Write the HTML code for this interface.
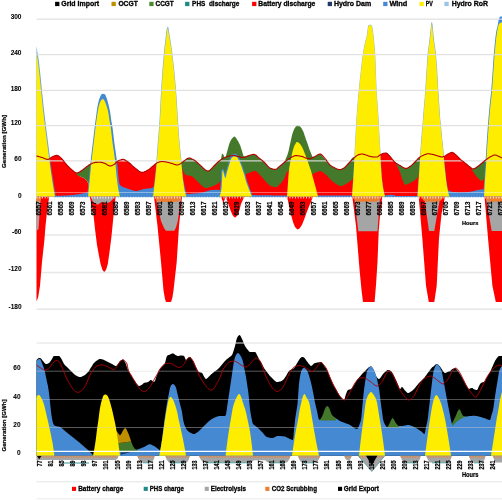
<!DOCTYPE html>
<html lang="en">
<head>
<meta charset="utf-8">
<title>Generation chart</title>
<style>
html,body{margin:0;padding:0;background:#ffffff;}
body{width:502px;height:501px;overflow:hidden;font-family:"Liberation Sans",sans-serif;}
svg{display:block;filter:blur(0.45px);}
</style>
</head>
<body>
<svg width="502" height="501" viewBox="0 0 502 501">
<rect x="0" y="0" width="502" height="501" fill="#ffffff"/>
<line x1="36.5" y1="235.0" x2="502.0" y2="235.0" stroke="#e7e7e7" stroke-width="1.5" />
<line x1="36.5" y1="272.5" x2="502.0" y2="272.5" stroke="#e7e7e7" stroke-width="1.5" />
<line x1="36.5" y1="309.2" x2="502.0" y2="309.2" stroke="#e7e7e7" stroke-width="1.5" />
<polygon points="180.0,196.6 180.0,164.0 180.5,163.6 181.0,163.2 181.5,162.8 182.0,162.4 182.5,162.1 183.0,161.7 183.5,161.3 184.0,161.0 184.5,160.6 185.0,160.3 185.5,159.9 186.0,159.5 186.5,159.1 187.0,158.7 187.5,158.4 188.0,158.2 188.5,158.1 189.0,158.0 189.5,158.0 190.0,158.1 190.5,158.3 191.0,158.4 191.5,158.7 192.0,158.9 192.5,159.2 193.0,159.4 193.5,159.7 194.0,160.0 194.5,160.3 195.0,160.6 195.5,161.0 196.0,161.4 196.5,161.9 197.0,162.3 197.5,162.8 198.0,163.2 198.5,163.7 199.0,164.2 199.5,164.6 200.0,165.0 200.5,165.4 201.0,165.9 201.5,166.3 202.0,166.8 202.5,167.3 203.0,167.8 203.5,168.3 204.0,168.8 204.5,169.2 205.0,169.7 205.5,170.0 206.0,170.4 206.5,170.6 207.0,170.8 207.5,171.0 208.0,171.0 208.5,170.9 209.0,170.8 209.5,170.5 210.0,170.1 210.5,169.7 211.0,169.2 211.5,168.7 212.0,168.1 212.5,167.6 213.0,167.0 213.5,166.5 214.0,166.0 214.5,165.5 215.0,165.0 215.5,164.5 216.0,164.0 216.5,163.5 217.0,163.0 217.5,162.5 218.0,162.0 218.5,161.6 219.0,161.3 219.5,161.0 220.0,160.7 220.5,160.2 221.0,159.5 221.5,156.3 222.0,153.5 222.5,153.7 223.0,154.3 223.5,155.0 224.0,156.1 224.5,157.4 225.0,158.0 225.5,157.4 226.0,155.8 226.5,153.8 227.0,152.0 227.5,150.3 228.0,148.5 228.5,146.6 229.0,144.8 229.5,143.3 230.0,142.0 230.5,141.0 231.0,140.1 231.5,139.3 232.0,138.6 232.5,138.0 233.0,137.5 233.5,137.0 234.0,136.7 234.5,136.6 235.0,136.8 235.5,137.3 236.0,138.0 236.5,138.8 237.0,139.5 237.5,140.2 238.0,141.0 238.5,141.9 239.0,142.9 239.5,143.9 240.0,145.0 240.5,146.3 241.0,147.9 241.5,149.5 242.0,151.0 242.5,152.7 243.0,154.5 243.5,155.9 244.0,156.5 244.5,156.5 245.0,156.4 245.5,156.3 246.0,156.2 246.5,156.1 247.0,156.0 247.5,155.9 248.0,155.7 248.5,155.6 249.0,155.5 249.5,155.4 250.0,155.3 250.5,155.1 251.0,155.0 251.5,154.8 252.0,154.7 252.5,154.6 253.0,154.5 253.5,154.4 254.0,154.4 254.5,154.5 255.0,154.7 255.5,154.9 256.0,155.3 256.5,155.7 257.0,156.2 257.5,156.7 258.0,157.1 258.5,157.6 259.0,158.0 259.5,158.4 260.0,158.8 260.5,159.1 261.0,159.5 261.5,159.9 262.0,160.3 262.5,160.7 263.0,161.1 263.5,161.6 264.0,162.0 264.5,162.5 265.0,163.0 265.5,163.6 266.0,164.2 266.5,164.7 267.0,165.3 267.5,165.9 268.0,166.5 268.5,166.9 269.0,167.4 269.5,167.7 270.0,168.0 270.5,168.2 271.0,168.4 271.5,168.6 272.0,168.8 272.5,169.0 273.0,169.1 273.5,169.2 274.0,169.3 274.5,169.4 275.0,169.4 275.5,169.3 276.0,169.2 276.5,168.9 277.0,168.6 277.5,168.2 278.0,167.8 278.5,167.3 279.0,166.9 279.5,166.4 280.0,166.0 280.5,165.6 281.0,165.2 281.5,164.7 282.0,164.3 282.5,163.8 283.0,163.3 283.5,162.7 284.0,162.0 284.5,161.3 285.0,160.4 285.5,159.4 286.0,158.3 286.5,157.1 287.0,155.9 287.5,154.5 288.0,153.0 288.5,151.2 289.0,149.0 289.5,146.6 290.0,144.2 290.5,142.0 291.0,139.8 291.5,137.6 292.0,135.5 292.5,133.6 293.0,132.0 293.5,130.7 294.0,129.6 294.5,128.6 295.0,127.7 295.5,127.0 296.0,126.3 296.5,125.7 297.0,125.2 297.5,125.0 298.0,125.1 298.5,125.3 299.0,125.6 299.5,126.1 300.0,126.5 300.5,127.0 301.0,127.6 301.5,128.3 302.0,129.2 302.5,130.0 303.0,131.0 303.5,132.1 304.0,133.5 304.5,135.0 305.0,136.5 305.5,138.0 306.0,139.4 306.5,140.8 307.0,142.2 307.5,143.6 308.0,145.0 308.5,146.4 309.0,147.9 309.5,149.4 310.0,150.7 310.5,152.0 311.0,153.3 311.5,154.6 312.0,155.8 312.5,156.7 313.0,157.0 313.5,157.0 314.0,156.8 314.5,156.6 315.0,156.4 315.5,156.2 316.0,156.0 316.5,155.8 317.0,155.5 317.5,155.1 318.0,154.8 318.5,154.5 319.0,154.2 319.5,154.1 320.0,154.0 320.5,154.1 321.0,154.5 321.5,155.1 322.0,155.8 322.5,156.4 323.0,157.0 323.5,157.5 324.0,158.1 324.5,158.7 325.0,159.3 325.5,160.0 326.0,160.6 326.5,161.2 327.0,161.9 327.5,162.5 328.0,163.1 328.5,163.6 329.0,164.1 329.5,164.6 330.0,165.0 330.5,165.4 331.0,165.7 331.5,166.1 332.0,166.4 332.5,166.7 333.0,167.0 333.5,167.3 334.0,167.5 334.5,167.8 335.0,168.0 335.5,168.2 336.0,168.4 336.5,168.7 337.0,168.9 337.5,169.1 338.0,169.2 338.5,169.4 339.0,169.5 339.5,169.6 340.0,169.6 340.5,169.6 341.0,169.5 341.5,169.3 342.0,169.1 342.5,168.8 343.0,168.6 343.5,168.3 344.0,168.0 344.5,167.7 345.0,167.3 345.5,166.8 346.0,166.3 346.5,165.7 347.0,165.2 347.5,164.6 348.0,164.0 348.5,163.4 349.0,162.7 349.5,161.9 350.0,161.1 350.5,160.3 351.0,159.6 351.5,158.9 352.0,158.3 352.5,157.8 353.0,157.5 353.5,157.3 354.0,157.1 354.5,157.0 354.5,196.6" fill="#44792c" />
<polygon points="47.0,196.6 47.0,159.4 48.0,159.4 48.5,159.3 49.0,159.1 49.5,158.8 50.0,158.4 50.5,158.0 51.0,157.6 51.5,157.3 52.0,157.0 52.5,156.8 53.0,156.6 53.5,156.3 54.0,156.1 54.5,155.9 55.0,155.8 55.5,155.6 56.0,155.5 56.5,155.4 57.0,155.4 57.5,155.5 58.0,155.6 58.5,155.9 59.0,156.3 59.5,156.7 60.0,157.1 60.5,157.6 61.0,158.0 61.5,158.5 62.0,159.0 62.5,159.6 63.0,160.2 63.5,160.8 64.0,161.5 64.5,162.2 65.0,162.8 65.5,163.4 66.0,164.0 66.5,164.5 67.0,165.1 67.5,165.6 68.0,166.2 68.5,166.7 69.0,167.2 69.5,167.7 70.0,168.1 70.5,168.6 71.0,169.0 71.5,169.4 72.0,169.9 72.5,170.3 73.0,170.8 73.5,171.2 74.0,171.6 74.5,172.0 75.0,172.3 75.5,172.6 76.0,172.8 76.5,173.0 77.0,173.0 80.0,176.5 84.0,178.0 87.0,181.0 88.5,184.0 89.5,190.0 91.0,196.6 91.0,196.6" fill="#ff0000" />
<polygon points="76.0,173.6 77.0,173.0 77.5,172.9 78.0,172.8 78.5,172.6 79.0,172.3 79.5,172.0 80.0,171.7 80.5,171.3 81.0,171.0 81.5,170.7 82.0,170.3 82.5,170.0 83.0,169.6 83.5,169.2 84.0,168.8 84.5,168.4 85.0,168.0 85.5,167.6 86.0,167.2 86.5,166.8 87.0,166.4 87.5,166.1 88.0,165.7 88.5,165.3 89.0,165.0 89.5,164.7 90.0,164.4 90.5,164.1 91.0,163.9 91.5,163.7 91.0,168.0 90.0,180.0 88.8,184.0 87.0,181.0 84.0,178.0 80.0,176.5 77.0,175.0" fill="#44792c" />
<polygon points="113.0,196.6 113.0,165.0 114.0,164.5 114.5,164.2 115.0,163.7 115.5,163.3 116.0,162.7 116.5,162.2 117.0,161.7 117.5,161.3 118.0,161.0 118.5,160.8 119.0,160.5 119.5,160.3 120.0,160.1 120.5,159.9 121.0,159.7 121.5,159.6 122.0,159.5 122.5,159.4 123.0,159.4 123.5,159.4 124.0,159.6 124.5,159.8 125.0,160.0 125.5,160.3 126.0,160.6 126.5,161.0 127.0,161.3 127.5,161.7 128.0,162.0 128.5,162.3 129.0,162.7 129.5,163.1 130.0,163.5 130.5,164.0 131.0,164.5 131.5,164.9 132.0,165.4 132.5,165.9 133.0,166.3 133.5,166.8 134.0,167.2 134.5,167.6 135.0,168.0 135.5,168.4 136.0,168.8 136.5,169.2 137.0,169.6 137.5,170.0 138.0,170.4 138.5,170.8 139.0,171.2 139.5,171.5 140.0,171.8 140.5,172.1 141.0,172.2 141.5,172.4 142.0,172.4 142.5,172.4 143.0,172.3 143.5,172.2 144.0,172.0 144.5,171.8 145.0,171.6 145.5,171.4 146.0,171.1 146.5,170.8 147.0,170.6 147.5,170.3 148.0,170.0 148.5,169.7 149.0,169.4 149.5,169.0 150.0,168.6 150.5,168.1 151.0,167.7 151.5,167.3 152.0,166.8 152.5,166.4 153.0,166.0 153.5,165.6 154.0,165.2 154.5,164.8 155.0,164.3 155.5,163.9 156.0,163.5 156.5,163.2 157.0,162.9 157.5,162.6 158.0,162.4 159.0,162.0 159.0,196.6" fill="#ff0000" />
<polygon points="180.0,196.6 180.0,164.0 180.5,165.0 181.0,165.9 181.5,167.0 182.0,168.0 182.5,169.1 183.0,170.4 183.5,171.5 184.0,172.5 184.5,173.3 185.0,174.1 185.5,174.7 186.0,175.0 186.5,175.2 187.0,175.3 187.5,175.4 188.0,175.5 188.5,175.5 189.0,175.6 189.5,175.7 190.0,175.8 190.5,175.9 191.0,176.0 191.5,176.2 192.0,176.5 192.5,176.8 193.0,177.2 193.5,177.6 194.0,178.1 194.5,178.6 195.0,179.1 195.5,179.5 196.0,180.0 196.5,180.5 197.0,181.0 197.5,181.5 198.0,182.0 198.5,182.6 199.0,183.1 199.5,183.6 200.0,184.0 200.5,184.4 201.0,184.9 201.5,185.3 202.0,185.8 202.5,186.2 203.0,186.6 203.5,187.0 204.0,187.3 204.5,187.6 205.0,187.8 205.5,188.0 206.0,188.0 206.5,188.0 207.0,187.9 207.5,187.9 208.0,187.8 208.5,187.6 209.0,187.5 209.5,187.3 210.0,187.1 210.5,187.0 211.0,186.8 211.5,186.6 212.0,186.4 212.5,186.2 213.0,186.0 213.5,185.8 214.0,185.6 214.5,185.4 215.0,185.2 215.5,185.0 216.0,184.7 216.5,184.4 217.0,184.1 217.5,183.8 218.0,183.5 218.5,183.2 219.0,182.8 219.5,182.3 220.0,181.7 220.5,181.0 221.0,179.5 221.5,177.2 222.0,175.0 222.5,173.2 223.0,171.6 223.5,170.0 223.5,196.6" fill="#ff0000" />
<polygon points="243.0,196.6 243.0,180.0 243.5,178.4 244.0,177.0 244.5,175.8 245.0,175.0 245.5,174.6 246.0,174.2 246.5,173.9 247.0,173.6 247.5,173.4 248.0,173.2 248.5,173.0 249.0,172.9 249.5,172.7 250.0,172.5 250.5,172.3 251.0,172.1 251.5,171.9 252.0,171.7 252.5,171.5 253.0,171.3 253.5,171.2 254.0,171.1 254.5,171.0 255.0,171.0 255.5,171.1 256.0,171.3 256.5,171.6 257.0,172.0 257.5,172.4 258.0,172.9 258.5,173.4 259.0,174.0 259.5,174.5 260.0,175.0 260.5,175.5 261.0,176.0 261.5,176.6 262.0,177.2 262.5,177.7 263.0,178.3 263.5,178.9 264.0,179.5 264.5,180.1 265.0,180.7 265.5,181.3 266.0,181.9 266.5,182.5 267.0,183.1 267.5,183.6 268.0,184.0 268.5,184.4 269.0,184.8 269.5,185.2 270.0,185.5 270.5,185.9 271.0,186.1 271.5,186.4 272.0,186.5 272.5,186.6 273.0,186.7 273.5,186.8 274.0,186.9 274.5,186.9 275.0,187.0 275.5,187.0 276.0,187.0 276.5,186.9 277.0,186.7 277.5,186.4 278.0,186.0 278.5,185.5 279.0,185.0 279.5,184.5 280.0,184.0 280.5,183.5 281.0,183.0 281.5,182.4 282.0,181.9 282.5,181.2 283.0,180.5 283.5,179.8 284.0,179.0 284.5,178.0 285.0,176.8 285.5,175.4 286.0,174.1 286.5,172.9 287.0,172.0 287.5,171.4 288.0,170.9 288.5,170.5 289.0,170.0 289.5,169.5 290.0,169.0 290.0,196.6" fill="#ff0000" />
<polygon points="311.0,196.6 311.0,178.0 311.5,176.8 312.0,175.6 312.5,174.6 313.0,174.0 313.5,173.6 314.0,173.3 314.5,173.0 315.0,172.8 315.5,172.6 316.0,172.4 316.5,172.2 317.0,172.0 317.5,171.8 318.0,171.6 318.5,171.4 319.0,171.2 319.5,171.0 320.0,171.0 320.5,171.1 321.0,171.2 321.5,171.4 322.0,171.7 322.5,172.0 323.0,172.4 323.5,172.8 324.0,173.2 324.5,173.6 325.0,174.0 325.5,174.4 326.0,174.8 326.5,175.3 327.0,175.8 327.5,176.3 328.0,176.9 328.5,177.4 329.0,178.0 329.5,178.5 330.0,179.1 330.5,179.6 331.0,180.1 331.5,180.6 332.0,181.0 332.5,181.4 333.0,181.8 333.5,182.2 334.0,182.6 334.5,183.0 335.0,183.3 335.5,183.6 336.0,184.0 336.5,184.2 337.0,184.5 337.5,184.7 338.0,185.0 338.5,185.3 339.0,185.5 339.5,185.7 340.0,185.9 340.5,186.0 341.0,186.0 341.5,186.0 342.0,185.9 342.5,185.7 343.0,185.5 343.5,185.2 344.0,185.0 344.5,184.7 345.0,184.5 345.5,184.3 346.0,184.0 346.5,183.7 347.0,183.4 347.5,183.1 348.0,182.7 348.5,182.4 349.0,182.0 349.5,181.6 350.0,181.3 350.5,180.9 351.0,180.5 351.5,180.0 352.0,179.4 352.5,178.8 353.0,178.0 353.5,176.7 354.0,174.8 354.5,172.5 355.0,170.0 355.0,196.6" fill="#ff0000" />
<polygon points="378.0,196.6 378.0,157.0 379.0,155.8 379.5,155.3 380.0,155.0 380.5,154.7 381.0,154.4 381.5,154.1 382.0,153.9 382.5,153.7 383.0,153.5 383.5,153.4 384.0,153.3 384.5,153.2 385.0,153.1 385.5,153.0 386.0,153.0 386.5,153.1 387.0,153.4 387.5,153.8 388.0,154.3 388.5,154.8 389.0,155.4 389.5,156.0 390.0,156.5 390.5,157.0 391.0,157.6 391.5,158.3 392.0,158.9 392.5,159.6 393.0,160.2 393.5,160.8 394.0,161.4 394.5,162.0 395.0,162.4 395.5,162.8 396.0,163.2 396.5,163.5 397.0,163.8 397.5,164.1 398.0,164.4 398.5,164.7 399.0,165.0 399.5,165.2 400.0,165.5 400.5,165.8 401.0,166.1 401.5,166.4 402.0,166.7 402.5,167.1 403.0,167.4 403.5,167.6 404.0,167.9 404.5,168.1 405.0,168.3 405.5,168.4 406.0,168.4 406.5,168.4 407.0,168.2 407.5,168.0 408.0,167.8 408.5,167.5 409.0,167.1 409.5,166.8 410.0,166.5 410.5,166.2 411.0,165.8 411.5,165.4 412.0,164.9 412.5,164.4 413.0,164.0 413.5,163.5 414.0,163.0 414.5,162.5 415.0,162.0 415.5,161.5 416.0,160.9 416.5,160.3 417.0,159.8 417.5,159.2 418.0,158.7 418.5,158.2 419.0,157.8 419.5,157.4 420.0,157.0 420.5,156.7 421.0,156.4 422.0,157.0 422.0,196.6" fill="#ff0000" />
<polygon points="395.0,162.4 395.5,162.8 396.0,163.2 396.5,163.5 397.0,163.8 397.5,164.1 398.0,164.4 398.5,164.7 399.0,165.0 399.5,165.2 400.0,165.5 400.5,165.8 401.0,166.1 401.5,166.4 402.0,166.7 402.5,167.1 403.0,167.4 403.5,167.6 404.0,167.9 404.5,168.1 405.0,168.3 405.5,168.4 406.0,168.4 406.5,168.4 407.0,168.2 407.5,168.0 408.0,167.8 408.5,167.5 409.0,167.1 409.5,166.8 410.0,166.5 410.5,166.2 411.0,165.8 411.5,165.4 412.0,164.9 412.5,164.4 413.0,164.0 413.5,163.5 414.0,163.0 414.5,162.5 415.0,162.0 415.5,161.5 416.0,160.9 416.5,160.3 417.0,159.8 417.5,159.2 418.0,158.7 418.5,158.2 419.0,157.8 419.5,157.4 420.0,157.0 420.5,156.7 420.5,160.0 419.5,170.0 418.0,177.0 415.0,180.0 412.0,182.0 408.0,184.0 405.0,185.0 403.5,182.5 402.0,178.5 400.0,172.0 397.0,166.0" fill="#44792c" />
<polygon points="441.0,196.6 441.0,157.0 442.0,157.0 442.5,156.9 443.0,156.8 443.5,156.6 444.0,156.4 444.5,156.2 445.0,155.9 445.5,155.6 446.0,155.2 446.5,154.9 447.0,154.6 447.5,154.3 448.0,154.0 448.5,153.7 449.0,153.5 449.5,153.2 450.0,153.0 450.5,152.7 451.0,152.6 451.5,152.4 452.0,152.4 452.5,152.5 453.0,152.7 453.5,152.9 454.0,153.3 454.5,153.7 455.0,154.2 455.5,154.6 456.0,155.0 456.5,155.4 457.0,155.9 457.5,156.4 458.0,156.9 458.5,157.5 459.0,158.0 459.5,158.5 460.0,159.0 460.5,159.4 461.0,159.9 461.5,160.3 462.0,160.7 462.5,161.1 463.0,161.4 463.5,161.8 464.0,162.2 464.5,162.6 465.0,163.0 465.5,163.4 466.0,163.8 466.5,164.2 467.0,164.6 467.5,165.0 468.0,165.5 468.5,165.9 469.0,166.3 469.5,166.6 470.0,167.0 470.5,167.4 471.0,167.8 471.5,168.3 472.0,168.6 472.5,168.9 473.0,169.0 473.5,168.9 474.0,168.8 474.5,168.6 475.0,168.3 475.5,168.0 476.0,167.7 476.5,167.3 477.0,167.0 477.5,166.7 478.0,166.3 478.5,165.9 479.0,165.5 479.5,165.1 480.0,164.7 480.5,164.3 481.0,163.8 481.5,163.4 482.0,163.0 482.5,162.6 483.0,162.2 483.5,161.8 484.0,161.4 484.5,160.9 485.0,160.5 485.5,160.1 486.0,159.7 486.5,159.4 487.0,159.0 487.5,158.7 488.0,158.3 489.0,158.0 489.0,196.6" fill="#ff0000" />
<polygon points="470.0,167.0 470.5,167.4 471.0,167.8 471.5,168.3 472.0,168.6 472.5,168.9 473.0,169.0 473.5,168.9 474.0,168.8 474.5,168.6 475.0,168.3 475.5,168.0 476.0,167.7 476.5,167.3 477.0,167.0 477.5,166.7 478.0,166.3 478.5,165.9 479.0,165.5 479.5,165.1 480.0,164.7 480.5,164.3 481.0,163.8 481.5,163.4 482.0,163.0 482.5,162.6 483.0,162.2 483.5,161.8 484.0,161.4 484.5,160.9 485.0,160.5 485.5,160.1 486.0,159.7 486.5,159.4 487.0,159.0 487.5,158.7 487.0,162.0 486.0,168.0 485.0,175.0 484.0,179.5 481.0,181.0 478.5,178.5 476.0,176.0 473.0,171.5" fill="#44792c" />
<polygon points="53.0,197.2 53.0,195.8 53.5,195.8 54.0,195.8 54.5,195.8 55.0,195.8 55.5,195.8 56.0,195.8 56.5,195.8 57.0,195.8 57.5,195.8 58.0,195.8 58.5,195.8 59.0,195.8 59.5,195.8 60.0,195.7 60.5,195.7 61.0,195.7 61.5,195.7 62.0,195.7 62.5,195.7 63.0,195.6 63.5,195.6 64.0,195.6 64.5,195.6 65.0,195.5 65.5,195.5 66.0,195.5 66.5,195.5 67.0,195.4 67.5,195.4 68.0,195.4 68.5,195.3 69.0,195.3 69.5,195.3 70.0,195.2 70.5,195.2 71.0,195.1 71.5,195.1 72.0,195.0 72.5,195.0 73.0,194.9 73.5,194.9 74.0,194.8 74.5,194.7 75.0,194.7 75.5,194.6 76.0,194.6 76.5,194.5 77.0,194.4 77.5,194.4 78.0,194.3 78.5,194.2 79.0,194.2 79.5,194.1 80.0,194.0 80.5,193.9 81.0,193.8 81.5,193.7 82.0,193.6 82.5,193.5 83.0,193.4 83.5,193.3 84.0,193.2 84.5,193.1 85.0,193.0 85.5,192.9 86.0,192.8 86.5,192.7 87.0,192.6 87.5,192.5 88.0,192.4 88.5,192.3 89.0,192.2 89.5,192.1 90.0,192.0 90.0,197.2" fill="#4589d3" />
<polygon points="114.0,197.2 114.0,160.0 114.5,160.8 115.0,162.2 115.5,164.0 116.0,166.0 116.5,169.0 117.0,173.1 117.5,177.2 118.0,180.0 118.5,181.7 119.0,183.1 119.5,184.3 120.0,185.0 120.5,185.5 121.0,185.9 121.5,186.2 122.0,186.5 122.5,186.8 123.0,187.0 123.5,187.2 124.0,187.4 124.5,187.5 125.0,187.7 125.5,187.8 126.0,188.0 126.5,188.2 127.0,188.4 127.5,188.6 128.0,188.7 128.5,188.9 129.0,189.1 129.5,189.3 130.0,189.5 130.5,189.6 131.0,189.8 131.5,190.0 132.0,190.1 132.5,190.3 133.0,190.4 133.5,190.6 134.0,190.7 134.5,190.8 135.0,190.9 135.5,191.0 136.0,191.0 136.5,191.0 137.0,190.9 137.5,190.8 138.0,190.7 138.5,190.6 139.0,190.5 139.5,190.3 140.0,190.2 140.5,190.1 141.0,189.9 141.5,189.7 142.0,189.6 142.5,189.4 143.0,189.2 143.5,189.1 144.0,189.0 144.5,188.9 145.0,188.8 145.5,188.8 146.0,188.7 146.5,188.7 147.0,188.6 147.5,188.6 148.0,188.5 148.5,188.4 149.0,188.4 149.5,188.4 150.0,188.3 150.5,188.3 151.0,188.2 151.5,188.1 152.0,188.0 152.5,187.7 153.0,187.3 153.5,186.7 154.0,186.0 154.5,185.3 155.0,184.3 155.5,183.0 156.0,180.2 156.5,176.1 157.0,172.0 157.5,168.5 158.0,165.0 158.0,197.2" fill="#4589d3" />
<polygon points="183.0,197.2 183.0,180.0 183.5,182.0 184.0,184.0 184.5,186.0 185.0,188.0 185.5,190.2 186.0,192.0 186.5,193.3 187.0,194.0 187.5,194.0 188.0,194.0 188.5,194.0 189.0,193.9 189.5,193.9 190.0,193.9 190.5,193.8 191.0,193.8 191.5,193.7 192.0,193.7 192.5,193.6 193.0,193.6 193.5,193.6 194.0,193.5 194.5,193.5 195.0,193.5 195.5,193.4 196.0,193.4 196.5,193.3 197.0,193.3 197.5,193.3 198.0,193.2 198.5,193.2 199.0,193.1 199.5,193.1 200.0,193.0 200.5,192.9 201.0,192.8 201.5,192.7 202.0,192.6 202.5,192.5 203.0,192.3 203.5,192.2 204.0,192.1 204.5,191.9 205.0,191.8 205.5,191.6 206.0,191.5 206.5,191.4 207.0,191.2 207.5,191.1 208.0,190.9 208.5,190.8 209.0,190.6 209.5,190.5 210.0,190.3 210.5,190.2 211.0,190.1 211.5,190.1 212.0,190.0 212.5,190.0 213.0,189.9 213.5,189.9 214.0,189.9 214.5,189.8 215.0,189.8 215.5,189.8 216.0,189.8 216.5,189.8 217.0,189.8 217.5,189.8 218.0,189.8 218.5,189.9 219.0,189.9 219.5,190.0 220.0,190.0 220.5,190.2 221.0,190.7 221.5,191.3 222.0,192.0 222.0,197.2" fill="#4589d3" />
<polygon points="249.0,197.2 249.0,192.0 249.5,193.0 250.0,193.9 250.5,194.7 251.0,195.0 251.5,195.0 252.0,195.0 252.5,195.1 253.0,195.1 253.5,195.1 254.0,195.1 254.5,195.1 255.0,195.1 255.5,195.1 256.0,195.2 256.5,195.2 257.0,195.2 257.5,195.2 258.0,195.2 258.5,195.2 259.0,195.2 259.5,195.2 260.0,195.2 260.5,195.2 261.0,195.2 261.5,195.2 262.0,195.2 262.5,195.2 263.0,195.2 263.5,195.3 264.0,195.3 264.5,195.3 265.0,195.3 265.5,195.3 266.0,195.3 266.5,195.3 267.0,195.3 267.5,195.3 268.0,195.3 268.5,195.3 269.0,195.3 269.5,195.3 270.0,195.3 270.5,195.3 271.0,195.3 271.5,195.4 272.0,195.4 272.5,195.4 273.0,195.4 273.5,195.4 274.0,195.4 274.5,195.4 275.0,195.4 275.5,195.4 276.0,195.4 276.5,195.4 277.0,195.4 277.5,195.4 278.0,195.5 278.5,195.5 279.0,195.5 279.5,195.5 280.0,195.5 280.5,195.5 281.0,195.5 281.5,195.5 282.0,195.5 282.5,195.6 283.0,195.6 283.5,195.6 284.0,195.6 284.5,195.6 285.0,195.6 285.5,195.6 286.0,195.6 286.5,195.6 287.0,195.6 287.5,195.6 288.0,195.6 288.0,197.2" fill="#4589d3" />
<polygon points="316.0,197.2 316.0,193.0 316.5,193.8 317.0,194.5 317.5,195.1 318.0,195.4 318.5,195.4 319.0,195.4 319.5,195.5 320.0,195.5 320.5,195.5 321.0,195.5 321.5,195.5 322.0,195.5 322.5,195.5 323.0,195.5 323.5,195.6 324.0,195.6 324.5,195.6 325.0,195.6 325.5,195.6 326.0,195.6 326.5,195.6 327.0,195.6 327.5,195.6 328.0,195.6 328.5,195.6 329.0,195.6 329.5,195.6 330.0,195.6 330.5,195.6 331.0,195.6 331.5,195.6 332.0,195.6 332.5,195.6 333.0,195.6 333.5,195.6 334.0,195.6 334.5,195.6 335.0,195.6 335.5,195.6 336.0,195.6 336.5,195.6 337.0,195.6 337.5,195.6 338.0,195.6 338.5,195.6 339.0,195.6 339.5,195.6 340.0,195.6 340.5,195.6 341.0,195.6 341.5,195.6 342.0,195.6 342.5,195.6 343.0,195.6 343.5,195.6 344.0,195.6 344.5,195.6 345.0,195.6 345.5,195.6 346.0,195.6 346.5,195.6 347.0,195.6 347.5,195.6 348.0,195.6 348.5,195.5 349.0,195.5 349.5,195.5 350.0,195.5 350.5,195.5 351.0,195.5 351.5,195.5 352.0,195.4 352.5,195.4 353.0,195.4 353.0,197.2" fill="#4589d3" />
<polygon points="383.0,197.2 383.0,192.0 383.5,193.3 384.0,194.4 384.5,195.3 385.0,195.6 385.5,195.6 386.0,195.5 386.5,195.3 387.0,195.2 387.5,195.1 388.0,195.0 388.5,195.0 389.0,194.9 389.5,194.9 390.0,194.8 390.5,194.8 391.0,194.8 391.5,194.8 392.0,194.9 392.5,195.0 393.0,195.1 393.5,195.2 394.0,195.3 394.5,195.4 395.0,195.6 395.5,195.7 396.0,195.9 396.5,196.0 397.0,196.0 397.5,196.0 398.0,196.0 398.5,196.0 399.0,196.0 399.5,196.0 400.0,196.0 400.5,196.0 401.0,196.0 401.5,196.0 402.0,196.0 402.5,196.0 403.0,196.0 403.5,196.0 404.0,196.0 404.5,196.0 405.0,196.0 405.5,196.0 406.0,196.0 406.5,196.0 407.0,196.0 407.5,196.0 408.0,196.0 408.5,196.0 409.0,196.0 409.5,196.0 410.0,196.0 410.5,196.0 411.0,196.0 411.5,196.0 412.0,196.0 412.5,196.0 413.0,196.0 413.5,196.0 414.0,196.0 414.5,196.0 415.0,196.0 415.5,196.0 416.0,196.0 416.5,196.0 417.0,196.0 417.5,196.0 418.0,196.0 418.0,197.2" fill="#4589d3" />
<polygon points="445.0,197.2 445.0,182.0 445.5,184.2 446.0,186.0 446.5,187.3 447.0,188.4 447.5,189.4 448.0,190.0 448.5,190.5 449.0,190.8 449.5,191.1 450.0,191.3 450.5,191.4 451.0,191.6 451.5,191.7 452.0,191.8 452.5,191.8 453.0,191.9 453.5,192.0 454.0,192.0 454.5,192.0 455.0,192.1 455.5,192.1 456.0,192.1 456.5,192.2 457.0,192.2 457.5,192.2 458.0,192.2 458.5,192.3 459.0,192.3 459.5,192.3 460.0,192.3 460.5,192.3 461.0,192.3 461.5,192.3 462.0,192.3 462.5,192.3 463.0,192.3 463.5,192.3 464.0,192.2 464.5,192.2 465.0,192.2 465.5,192.2 466.0,192.1 466.5,192.1 467.0,192.1 467.5,192.0 468.0,192.0 468.5,192.0 469.0,191.9 469.5,191.8 470.0,191.8 470.5,191.7 471.0,191.6 471.5,191.5 472.0,191.4 472.5,191.3 473.0,191.2 473.5,191.1 474.0,191.0 474.5,190.9 475.0,190.7 475.5,190.6 476.0,190.5 476.5,190.3 477.0,190.2 477.5,190.1 478.0,190.0 478.5,189.9 479.0,189.8 479.5,189.8 480.0,189.7 480.5,189.6 481.0,189.6 481.5,189.5 482.0,189.4 482.5,189.3 483.0,189.2 483.5,189.1 484.0,189.0 484.5,188.8 485.0,188.6 485.5,188.3 486.0,188.0 486.0,197.2" fill="#4589d3" />
<polygon points="36.5,196.6 36.5,46.0 37.3,51.8 37.7,53.8 38.1,56.2 38.5,58.8 38.9,61.6 39.3,64.8 39.7,68.4 40.1,72.2 40.5,76.1 40.9,79.9 41.3,83.9 41.7,88.1 42.1,92.2 42.5,96.2 42.9,100.0 43.3,103.7 43.7,107.3 44.1,110.8 44.5,114.2 44.9,117.6 45.3,121.0 45.7,124.3 46.1,127.7 46.5,131.0 47.0,134.3 47.4,137.5 47.8,140.7 48.2,143.8 48.6,147.0 49.0,150.0 49.4,153.1 49.8,156.1 50.2,159.1 50.6,162.1 51.0,165.0 51.4,167.9 51.8,170.7 52.2,173.4 52.6,176.0 53.0,178.6 53.4,181.2 53.8,183.7 54.2,186.1 54.6,188.5 55.0,190.9 55.4,193.2 55.8,195.4 56.0,196.6" fill="#4589d3" opacity="0.8"/>
<polygon points="36.5,196.6 36.5,53.0 36.9,55.0 37.3,57.4 37.7,60.0 38.1,62.8 38.5,66.0 38.9,69.6 39.3,73.4 39.7,77.3 40.1,81.1 40.5,85.1 40.9,89.3 41.3,93.4 41.7,97.4 42.1,101.2 42.5,104.9 42.9,108.5 43.3,112.0 43.7,115.4 44.1,118.8 44.5,122.2 44.9,125.5 45.3,128.9 45.8,132.2 46.2,135.5 46.6,138.7 47.0,141.9 47.4,145.0 47.8,148.2 48.2,151.2 48.6,154.3 49.0,157.3 49.4,160.3 49.8,163.3 50.2,166.2 50.6,169.1 51.0,171.9 51.4,174.6 51.8,177.2 52.2,179.8 52.6,182.4 53.0,184.9 53.4,187.3 53.8,189.7 54.2,192.1 54.6,194.4 55.0,196.6 55.0,196.6" fill="#ffed00" />
<polygon points="87.1,196.6 87.1,196.6 87.5,192.8 87.9,189.0 88.3,185.0 88.7,181.0 89.1,176.7 89.5,172.2 89.9,168.0 90.3,164.1 90.7,160.5 91.1,157.0 91.5,153.7 91.9,150.4 92.3,147.1 92.7,143.8 93.1,140.5 93.5,137.0 93.9,133.6 94.3,130.2 94.7,126.9 95.1,123.7 95.5,120.7 95.9,117.9 96.3,114.7 96.7,111.7 97.1,108.9 97.5,106.5 97.9,104.5 98.3,102.7 98.7,101.0 99.1,99.6 99.5,98.4 99.9,97.4 100.3,96.4 100.7,95.6 101.1,94.9 101.5,94.2 102.8,93.8 105.0,94.3 105.4,95.1 105.8,95.9 106.2,96.9 106.6,97.9 107.0,99.0 107.4,100.4 107.8,101.9 108.2,103.4 108.6,105.0 109.0,106.6 109.4,108.4 109.8,110.4 110.2,112.7 110.6,115.6 111.0,118.6 111.4,121.2 111.8,123.2 112.2,125.4 112.6,128.1 113.0,131.2 113.4,134.6 113.8,138.1 114.2,141.4 114.6,144.5 115.0,147.3 115.4,149.9 115.8,152.6 116.2,155.4 116.6,158.4 117.0,161.8 117.4,165.8 117.8,170.1 118.2,174.4 118.6,178.3 119.0,181.6 119.4,184.5 119.8,187.1 120.2,189.5 120.6,191.5 121.0,193.5 121.4,195.2 121.8,196.6 121.8,196.6" fill="#4589d3" opacity="1.0"/>
<polygon points="88.0,196.6 88.0,196.6 88.4,192.8 88.8,189.0 89.2,185.0 89.6,181.0 90.0,176.7 90.4,172.2 90.8,168.0 91.2,164.1 91.6,160.5 92.0,157.0 92.4,153.7 92.8,150.4 93.2,147.1 93.6,143.8 94.0,140.5 94.4,137.0 94.8,133.6 95.2,130.2 95.6,126.9 96.0,123.7 96.4,120.7 96.8,117.9 97.2,115.1 97.6,112.4 98.0,110.0 98.4,107.9 98.8,106.2 99.2,104.7 99.6,103.4 100.0,102.4 100.4,101.5 100.8,100.8 101.2,100.2 101.6,99.8 102.0,99.4 102.4,99.1 102.8,99.0 103.2,99.2 103.6,99.6 104.0,100.1 104.4,100.7 104.8,101.3 105.2,102.2 105.6,103.2 106.0,104.3 106.4,105.5 106.8,106.7 107.2,108.0 107.6,109.5 108.0,111.1 108.4,113.0 108.8,115.6 109.2,118.6 109.6,121.2 110.0,123.2 110.4,125.4 110.8,128.1 111.2,131.2 111.6,134.6 112.0,138.1 112.4,141.4 112.8,144.5 113.2,147.3 113.6,149.9 114.0,152.6 114.4,155.4 114.8,158.4 115.2,161.8 115.6,165.8 116.0,170.1 116.4,174.4 116.8,178.3 117.2,181.6 117.6,184.5 118.0,187.1 118.4,189.5 118.8,191.5 119.2,193.5 119.6,195.2 120.0,196.6 120.0,196.6" fill="#ffed00" />
<polygon points="152.5,196.6 152.5,196.6 152.9,193.5 153.3,190.3 153.7,186.9 154.1,183.4 154.5,179.8 154.9,176.1 155.3,172.3 155.7,168.3 156.1,164.1 156.5,159.6 156.9,154.5 157.3,149.1 157.7,143.4 158.2,138.0 158.6,132.9 159.0,127.7 159.4,122.1 159.8,115.5 160.2,107.7 160.6,99.5 161.0,92.0 161.4,85.6 161.8,79.5 162.2,73.7 162.6,68.3 163.0,63.2 163.4,58.4 163.8,53.9 164.2,49.9 164.6,46.3 165.0,42.9 165.4,39.5 165.8,36.0 166.2,32.6 166.6,29.6 167.5,26.8 168.3,27.1 168.7,29.6 169.1,32.1 169.5,34.6 169.9,37.3 170.4,40.0 170.8,42.7 171.2,45.3 171.6,48.0 172.0,50.9 172.4,54.0 172.8,57.4 173.2,60.9 173.6,64.5 174.0,68.4 174.4,72.3 174.8,76.4 175.2,80.7 175.6,85.3 176.0,90.0 176.4,95.4 176.8,101.4 177.2,107.8 177.6,114.2 178.0,120.3 178.4,126.3 178.8,132.3 179.2,137.9 179.6,142.7 180.0,146.9 180.4,150.9 180.8,154.7 181.2,158.5 181.7,162.6 182.1,166.9 182.5,171.2 182.9,175.2 183.3,178.9 183.7,182.1 184.1,185.1 184.5,187.8 184.9,189.9 185.3,191.7 185.7,193.3 186.1,194.7 186.5,195.8 186.9,196.6 186.9,196.6" fill="#4589d3" opacity="0.7"/>
<polygon points="153.0,196.6 153.0,196.6 153.4,193.5 153.8,190.3 154.2,186.9 154.6,183.4 155.0,179.8 155.4,176.1 155.8,172.3 156.2,168.3 156.6,164.1 157.0,159.6 157.4,154.5 157.8,149.1 158.2,143.4 158.7,138.0 159.1,132.9 159.5,127.7 159.9,122.1 160.3,115.5 160.7,107.7 161.1,99.5 161.5,92.0 161.9,85.7 162.3,79.7 162.7,74.1 163.1,68.7 163.5,63.7 163.9,59.0 164.3,54.7 164.7,50.8 165.1,47.3 165.5,44.0 165.9,40.7 166.3,37.3 166.7,34.0 167.1,31.1 167.5,28.4 167.9,28.6 168.3,31.0 168.7,33.4 169.1,35.8 169.5,38.4 170.0,41.0 170.4,43.5 170.8,46.0 171.2,48.7 171.6,51.5 172.0,54.5 172.4,57.7 172.8,61.1 173.2,64.6 173.6,68.4 174.0,72.3 174.4,76.4 174.8,80.7 175.2,85.3 175.6,90.0 176.0,95.4 176.4,101.4 176.8,107.8 177.2,114.2 177.6,120.3 178.0,126.3 178.4,132.3 178.8,137.9 179.2,142.7 179.6,146.9 180.0,150.9 180.4,154.7 180.8,158.5 181.3,162.6 181.7,166.9 182.1,171.2 182.5,175.2 182.9,178.9 183.3,182.1 183.7,185.1 184.1,187.8 184.5,189.9 184.9,191.7 185.3,193.3 185.7,194.7 186.1,195.8 186.5,196.6 186.5,196.6" fill="#ffed00" />
<polygon points="217.7,196.6 217.7,196.6 218.1,196.4 218.5,195.8 218.9,195.0 219.3,193.9 219.7,192.7 220.1,190.6 220.5,187.6 220.9,180.4 221.3,172.3 221.7,170.0 222.1,171.0 222.5,172.6 222.9,174.1 223.3,175.7 223.7,177.1 224.1,177.9 224.5,177.7 224.9,176.4 225.3,174.5 225.7,172.6 226.2,171.1 226.6,169.8 227.0,168.5 227.4,167.1 227.8,165.8 228.2,164.3 228.6,162.7 229.0,161.3 229.4,159.7 229.8,158.3 230.2,157.4 230.6,156.7 231.0,156.1 231.4,155.5 231.8,155.1 232.2,154.7 232.6,154.5 233.0,154.2 233.4,154.0 234.9,153.8 236.2,154.0 236.6,154.2 237.0,154.5 237.4,154.8 237.8,155.2 238.2,156.0 238.6,156.9 239.0,157.8 239.4,158.6 239.8,159.5 240.2,160.5 240.6,161.5 241.0,162.5 241.4,163.6 241.8,164.8 242.2,165.9 242.6,167.0 243.0,168.3 243.4,169.5 243.8,170.7 244.2,171.9 244.6,173.1 245.1,174.4 245.5,175.7 245.9,177.2 246.3,178.9 246.7,180.5 247.1,181.8 247.5,183.0 247.9,184.1 248.3,185.1 248.7,186.2 249.1,187.3 249.5,188.4 249.9,189.5 250.3,190.5 250.7,191.6 251.1,192.6 251.5,193.6 251.9,194.5 252.3,195.3 252.7,196.0 253.1,196.6 253.1,196.6" fill="#4589d3" opacity="1.0"/>
<polyline points="218.8,196.6 219.2,196.4 219.6,195.8 220.0,195.0 220.4,193.9 220.8,192.7 221.2,190.6 221.6,187.6 222.0,180.4 222.4,172.3 222.8,170.0 223.2,171.0 223.6,172.6 224.0,174.1 224.4,175.7 224.8,177.1 225.2,177.9 225.6,177.7 226.0,176.4 226.4,174.5 226.8,172.6 227.3,171.1 227.7,169.8 228.1,168.5 228.5,167.1 228.9,165.8 229.3,164.4 229.7,163.1 230.1,161.8 230.5,160.4 230.9,159.2 231.3,158.4 231.7,157.9 232.1,157.4 232.5,157.1 232.9,156.8 233.3,156.6 233.7,156.5 234.1,156.5 234.5,156.4 234.9,156.4 235.3,156.4 235.7,156.5 236.1,156.6 236.5,156.7 236.9,157.0 237.3,157.5 237.7,158.3 238.1,159.0 238.5,159.7 238.9,160.4 239.3,161.1 239.7,162.0 240.1,162.9 240.5,163.8 240.9,164.8 241.3,165.9 241.7,167.0 242.1,168.3 242.5,169.5 242.9,170.7 243.3,171.9 243.7,173.1 244.2,174.4 244.6,175.7 245.0,177.2 245.4,178.9 245.8,180.5 246.2,181.8 246.6,183.0 247.0,184.1 247.4,185.1 247.8,186.2 248.2,187.3 248.6,188.4 249.0,189.5 249.4,190.5 249.8,191.6 250.2,192.6 250.6,193.6 251.0,194.5 251.4,195.3 251.8,196.0 252.2,196.6" fill="none" stroke="#4589d3" stroke-width="2.0" stroke-linejoin="round" />
<polygon points="218.8,196.6 218.8,196.6 219.2,196.4 219.6,195.8 220.0,195.0 220.4,193.9 220.8,192.7 221.2,190.6 221.6,187.6 222.0,180.4 222.4,172.3 222.8,170.0 223.2,171.0 223.6,172.6 224.0,174.1 224.4,175.7 224.8,177.1 225.2,177.9 225.6,177.7 226.0,176.4 226.4,174.5 226.8,172.6 227.3,171.1 227.7,169.8 228.1,168.5 228.5,167.1 228.9,165.8 229.3,164.4 229.7,163.1 230.1,161.8 230.5,160.4 230.9,159.2 231.3,158.4 231.7,157.9 232.1,157.4 232.5,157.1 232.9,156.8 233.3,156.6 233.7,156.5 234.1,156.5 234.5,156.4 234.9,156.4 235.3,156.4 235.7,156.5 236.1,156.6 236.5,156.7 236.9,157.0 237.3,157.5 237.7,158.3 238.1,159.0 238.5,159.7 238.9,160.4 239.3,161.1 239.7,162.0 240.1,162.9 240.5,163.8 240.9,164.8 241.3,165.9 241.7,167.0 242.1,168.3 242.5,169.5 242.9,170.7 243.3,171.9 243.7,173.1 244.2,174.4 244.6,175.7 245.0,177.2 245.4,178.9 245.8,180.5 246.2,181.8 246.6,183.0 247.0,184.1 247.4,185.1 247.8,186.2 248.2,187.3 248.6,188.4 249.0,189.5 249.4,190.5 249.8,191.6 250.2,192.6 250.6,193.6 251.0,194.5 251.4,195.3 251.8,196.0 252.2,196.6 252.2,196.6" fill="#ffed00" />
<polygon points="287.0,196.6 287.0,196.6 287.4,191.1 287.8,185.6 288.2,180.1 288.6,174.3 289.0,169.9 289.4,167.0 289.8,164.7 290.2,162.6 290.6,160.8 291.0,158.9 291.4,156.9 291.8,154.9 292.2,153.0 292.6,151.3 293.0,149.9 293.4,148.5 293.8,147.3 294.2,146.2 294.6,145.2 295.1,144.4 295.5,143.7 295.9,143.0 296.3,142.5 296.7,142.1 297.1,142.0 297.5,142.1 297.9,142.3 298.3,142.5 298.7,142.8 299.1,143.1 299.5,143.4 299.9,143.8 300.3,144.3 300.7,144.9 301.1,145.5 301.5,146.2 301.9,146.8 302.3,147.5 302.7,148.4 303.1,149.3 303.5,150.2 303.9,151.2 304.3,152.3 304.7,153.3 305.1,154.3 305.5,155.3 305.9,156.3 306.3,157.4 306.7,158.5 307.1,159.6 307.5,160.7 307.9,161.8 308.3,163.0 308.7,164.1 309.1,165.3 309.5,166.5 309.9,167.7 310.4,168.9 310.8,170.2 311.2,171.5 311.6,172.9 312.0,174.3 312.4,175.7 312.8,177.2 313.2,178.6 313.6,180.0 314.0,181.5 314.4,182.9 314.8,184.4 315.2,185.8 315.6,187.3 316.0,188.8 316.4,190.3 316.8,191.9 317.2,193.4 317.6,195.0 318.0,196.6 318.0,196.6" fill="#ffed00" />
<polygon points="351.7,196.6 351.7,196.6 352.1,191.1 352.5,185.4 352.9,179.5 353.3,173.3 353.7,166.8 354.1,160.0 354.5,153.1 354.9,146.2 355.3,138.8 355.7,131.3 356.1,124.0 356.5,117.5 356.9,111.8 357.3,106.6 357.7,101.7 358.1,97.1 358.5,92.7 358.9,88.6 359.3,84.5 359.7,80.5 360.2,76.6 360.6,72.7 361.0,69.0 361.4,65.4 361.8,61.9 362.2,58.7 362.6,55.7 363.0,53.0 363.4,50.4 363.8,48.2 364.2,46.0 364.6,44.1 365.0,42.4 365.4,40.9 365.8,39.4 366.2,37.9 366.6,36.2 367.0,34.1 367.4,30.8 367.8,27.5 368.2,25.7 368.6,24.9 369.3,24.7 370.0,24.7 370.4,24.8 370.8,24.8 371.2,24.9 371.6,25.1 372.0,26.0 372.4,27.3 372.8,29.7 373.2,32.7 373.6,35.8 374.0,39.6 374.4,43.9 374.8,48.5 375.2,54.0 375.6,62.5 376.0,73.9 376.4,85.3 376.8,93.7 377.3,100.1 377.7,105.7 378.1,111.3 378.5,117.6 378.9,124.6 379.3,131.8 379.7,139.1 380.1,146.2 380.5,152.8 380.9,159.6 381.3,166.4 381.7,172.6 382.1,177.8 382.5,181.6 382.9,184.6 383.3,187.2 383.7,189.4 384.1,191.5 384.5,193.4 384.9,195.1 385.3,196.6 385.3,196.6" fill="#4589d3" opacity="0.6"/>
<polygon points="352.0,196.6 352.0,196.6 352.4,191.1 352.8,185.4 353.2,179.5 353.6,173.3 354.0,166.8 354.4,160.0 354.8,153.1 355.2,146.2 355.6,138.8 356.0,131.3 356.4,124.0 356.8,117.5 357.2,111.8 357.6,106.6 358.0,101.7 358.4,97.1 358.8,92.7 359.2,88.6 359.6,84.5 360.0,80.5 360.5,76.6 360.9,72.7 361.3,69.0 361.7,65.4 362.1,61.9 362.5,58.7 362.9,55.7 363.3,53.0 363.7,50.5 364.1,48.2 364.5,46.2 364.9,44.2 365.3,42.6 365.7,41.1 366.1,39.7 366.5,38.2 366.9,36.5 367.3,34.5 367.7,31.2 368.1,27.9 368.5,26.3 368.9,25.5 369.3,25.3 369.7,25.3 370.1,25.3 370.5,25.3 370.9,25.3 371.3,25.5 371.7,26.3 372.1,27.6 372.5,30.0 372.9,32.9 373.3,36.0 373.7,39.7 374.1,44.0 374.5,48.6 374.9,54.0 375.3,62.5 375.7,73.9 376.1,85.3 376.5,93.7 377.0,100.1 377.4,105.7 377.8,111.3 378.2,117.6 378.6,124.6 379.0,131.8 379.4,139.1 379.8,146.2 380.2,152.8 380.6,159.6 381.0,166.4 381.4,172.6 381.8,177.8 382.2,181.6 382.6,184.6 383.0,187.2 383.4,189.4 383.8,191.5 384.2,193.4 384.6,195.1 385.0,196.6 385.0,196.6" fill="#ffed00" />
<polygon points="417.1,196.6 417.1,196.6 417.5,190.9 417.9,185.2 418.3,179.4 418.8,173.5 419.1,167.4 419.5,161.4 419.9,156.0 420.3,150.9 420.8,146.0 421.1,141.1 421.5,136.2 421.9,131.2 422.3,126.2 422.8,121.2 423.1,116.2 423.5,111.4 423.9,106.6 424.3,101.9 424.8,97.0 425.1,91.9 425.5,86.3 425.9,79.9 426.3,73.2 426.8,66.6 427.1,60.6 427.5,55.5 427.9,51.7 428.3,48.5 428.8,45.4 429.1,42.2 429.5,38.9 429.9,35.6 430.3,31.8 430.8,27.5 431.1,23.5 431.9,21.7 432.7,25.5 433.1,30.2 433.5,34.7 433.9,38.2 434.2,41.5 434.7,44.5 435.1,47.6 435.5,50.3 435.9,53.5 436.2,57.7 436.7,63.0 437.1,69.2 437.5,75.8 437.9,82.6 438.2,89.1 438.7,95.3 439.1,101.7 439.5,108.0 439.9,113.7 440.2,118.6 440.7,123.0 441.1,127.0 441.5,131.0 441.9,135.0 442.2,139.1 442.7,143.0 443.1,147.0 443.5,151.0 443.9,155.1 444.2,159.2 444.7,163.3 445.1,167.2 445.5,170.9 445.9,174.5 446.2,178.0 446.7,181.2 447.1,184.2 447.5,186.6 447.9,188.7 448.2,190.8 448.7,192.6 449.1,194.2 449.5,195.6 449.9,196.6 449.9,196.6" fill="#4589d3" opacity="0.7"/>
<polygon points="417.5,196.6 417.5,196.6 417.9,190.9 418.3,185.2 418.7,179.4 419.1,173.5 419.5,167.4 419.9,161.4 420.3,156.0 420.7,150.9 421.1,146.0 421.5,141.1 421.9,136.2 422.3,131.2 422.7,126.2 423.1,121.2 423.5,116.2 423.9,111.4 424.3,106.6 424.7,101.9 425.1,97.0 425.5,91.9 425.9,86.3 426.3,80.0 426.7,73.4 427.1,67.0 427.5,61.0 427.9,56.0 428.3,52.3 428.7,49.3 429.1,46.2 429.5,43.1 429.9,40.0 430.3,36.7 430.7,33.1 431.1,28.9 431.5,25.0 431.9,23.3 432.3,27.0 432.7,31.6 433.1,35.9 433.5,39.4 433.9,42.5 434.3,45.5 434.7,48.4 435.1,51.1 435.5,54.1 435.9,58.2 436.3,63.4 436.7,69.5 437.1,76.0 437.5,82.7 437.9,89.1 438.3,95.3 438.7,101.7 439.1,108.0 439.5,113.7 439.9,118.6 440.3,123.0 440.7,127.0 441.1,131.0 441.5,135.0 441.9,139.1 442.3,143.0 442.7,147.0 443.1,151.0 443.5,155.1 443.9,159.2 444.3,163.3 444.7,167.2 445.1,170.9 445.5,174.5 445.9,178.0 446.3,181.2 446.7,184.2 447.1,186.6 447.5,188.7 447.9,190.8 448.3,192.6 448.7,194.2 449.1,195.6 449.5,196.6 449.5,196.6" fill="#ffed00" />
<polygon points="483.3,196.6 483.3,195.6 483.7,188.6 484.1,182.1 484.5,176.1 484.9,170.6 485.3,165.0 485.7,158.9 486.1,152.5 486.5,146.1 486.9,139.8 487.3,134.0 487.7,128.6 488.1,123.3 488.5,118.3 488.9,113.5 489.3,109.0 489.7,104.9 490.1,101.2 490.5,97.6 490.9,93.8 491.3,89.6 491.7,84.6 492.1,79.0 492.5,73.0 492.9,67.0 493.3,61.1 493.7,55.8 494.1,51.1 494.5,46.7 494.9,42.5 495.3,38.7 495.7,35.4 496.1,32.7 496.5,30.2 497.6,26.0 498.8,19.0 500.0,16.4 502.0,16.4 502.0,196.6" fill="#4589d3" />
<polygon points="484.0,196.6 484.0,196.6 484.4,189.6 484.8,183.1 485.2,177.1 485.6,171.6 486.0,166.0 486.4,159.9 486.8,153.5 487.2,147.1 487.6,140.8 488.0,135.0 488.4,129.6 488.8,124.3 489.2,119.3 489.6,114.5 490.0,110.0 490.4,105.9 490.8,102.2 491.2,98.6 491.6,94.8 492.0,90.6 492.4,85.6 492.8,80.0 493.2,74.0 493.6,68.0 494.0,62.1 494.4,56.8 494.8,52.1 495.2,47.7 495.6,43.5 496.0,39.7 496.4,36.4 496.8,33.7 497.2,31.2 497.6,28.9 498.0,27.0 498.4,25.5 498.8,24.6 499.2,23.9 499.6,23.3 500.0,23.0 500.4,22.8 500.8,22.7 501.2,22.6 501.6,22.5 502.0,22.5 502.0,196.6" fill="#ffed00" />
<polygon points="36.5,196.8 49.2,196.8 48.0,205.0 46.8,214.0 45.5,226.0 44.4,240.0 42.0,262.0 40.0,285.8 38.2,297.0 36.5,301.6" fill="#ff0000" />
<polygon points="89.8,196.8 91.5,205.0 93.4,214.0 95.0,229.0 97.0,245.0 99.0,256.0 100.6,264.0 102.5,270.0 104.2,272.0 106.0,270.0 107.8,264.0 109.5,252.0 111.3,238.0 113.7,214.0 115.6,196.8" fill="#ff0000" />
<polygon points="154.0,196.8 157.5,226.0 161.0,262.0 163.5,290.6 165.0,299.0 166.0,302.0 171.0,302.0 172.3,298.0 173.5,290.6 176.7,262.0 179.0,226.0 182.0,196.8" fill="#ff0000" />
<polygon points="220.8,196.8 223.5,203.0 225.6,196.8" fill="#ff0000" />
<polygon points="225.6,196.8 228.0,203.0 230.4,210.0 232.5,215.0 234.0,217.0 235.5,217.5 237.5,215.0 239.5,210.0 241.0,204.0 243.0,199.5 244.7,196.8" fill="#ff0000" />
<polygon points="286.6,196.8 287.8,200.0 289.5,208.0 291.4,216.0 293.0,222.0 295.0,227.0 297.4,229.5 299.5,228.5 302.0,224.7 304.5,218.5 307.0,211.5 310.0,204.0 313.0,196.8" fill="#ff0000" />
<polygon points="352.3,196.8 356.0,226.0 359.5,269.0 361.5,290.0 363.0,302.0 374.6,302.0 376.0,285.0 377.5,262.0 378.7,231.0 380.5,210.0 382.3,196.8" fill="#ff0000" />
<polygon points="418.7,196.8 422.3,238.0 426.0,285.8 428.8,302.0 434.3,302.0 436.7,285.8 439.0,238.0 441.5,214.0 445.0,196.8" fill="#ff0000" />
<polygon points="484.5,196.8 488.0,238.0 492.4,285.8 495.8,302.0 502.0,302.0 502.0,196.8" fill="#ff0000" />
<polygon points="36.5,196.8 40.8,196.8 39.5,215.0 38.5,229.0 36.5,230.7" fill="#a5a5a5" />
<polygon points="91.0,196.8 92.5,201.0 95.0,204.0 98.0,204.4 100.0,203.0 102.0,202.0 106.0,203.5 110.0,202.0 113.0,199.0 114.5,196.8" fill="#a5a5a5" />
<polygon points="155.5,196.8 156.3,200.0 161.0,221.0 164.0,228.0 166.0,230.7 174.3,230.7 176.0,227.5 177.8,221.0 180.7,200.0 181.4,196.8" fill="#a5a5a5" />
<polygon points="354.3,196.8 358.3,231.2 377.5,231.2 380.0,196.8" fill="#a5a5a5" />
<polygon points="424.2,196.8 429.0,231.0 434.3,231.0 437.0,215.0 440.3,196.8" fill="#a5a5a5" />
<polygon points="485.7,196.8 491.7,231.0 502.0,231.0 502.0,196.8" fill="#a5a5a5" />
<polygon points="36.5,196.8 42.0,196.8 40.0,201.0 36.5,202.0" fill="#ed7d31" />
<polygon points="155.0,196.8 156.0,200.0 158.0,201.5 162.0,202.0 174.0,202.0 178.0,201.5 180.4,200.0 181.4,196.8" fill="#ed7d31" />
<polygon points="353.5,196.8 354.5,200.0 357.0,201.7 376.0,201.7 379.0,200.0 380.0,196.8" fill="#ed7d31" />
<polygon points="422.0,196.8 423.0,200.0 426.0,201.7 438.0,201.7 441.5,200.0 443.5,196.8" fill="#ed7d31" />
<polygon points="485.5,196.8 486.5,200.0 489.0,201.7 502.0,201.7 502.0,196.8" fill="#ed7d31" />
<line x1="36.5" y1="19.1" x2="502.0" y2="19.1" stroke="#dedede" stroke-width="1.1" opacity="0.9"/>
<line x1="36.5" y1="54.6" x2="502.0" y2="54.6" stroke="#dedede" stroke-width="1.1" opacity="0.9"/>
<line x1="36.5" y1="90.4" x2="502.0" y2="90.4" stroke="#dedede" stroke-width="1.1" opacity="0.9"/>
<line x1="36.5" y1="125.6" x2="502.0" y2="125.6" stroke="#dedede" stroke-width="1.1" opacity="0.9"/>
<line x1="36.5" y1="160.9" x2="502.0" y2="160.9" stroke="#dedede" stroke-width="1.1" opacity="0.9"/>
<line x1="36.5" y1="192.4" x2="502.0" y2="192.4" stroke="#ffffff" stroke-width="0.8" opacity="0.55"/>
<line x1="36.5" y1="197.6" x2="502.0" y2="197.6" stroke="#ffffff" stroke-width="1.8" stroke-dasharray="0.9 1.85" opacity="0.9"/>
<polyline points="36.5,156.0 37.0,156.1 37.5,156.3 38.0,156.4 38.5,156.5 39.0,156.7 39.5,156.8 40.0,156.9 40.5,157.1 41.0,157.2 41.5,157.4 42.0,157.5 42.5,157.7 43.0,157.8 43.5,158.0 44.0,158.3 44.5,158.5 45.0,158.7 45.5,158.9 46.0,159.0 46.5,159.2 47.0,159.3 47.5,159.4 48.0,159.4 48.5,159.3 49.0,159.1 49.5,158.8 50.0,158.4 50.5,158.0 51.0,157.6 51.5,157.3 52.0,157.0 52.5,156.8 53.0,156.6 53.5,156.3 54.0,156.1 54.5,155.9 55.0,155.8 55.5,155.6 56.0,155.5 56.5,155.4 57.0,155.4 57.5,155.5 58.0,155.6 58.5,155.9 59.0,156.3 59.5,156.7 60.0,157.1 60.5,157.6 61.0,158.0 61.5,158.5 62.0,159.0 62.5,159.6 63.0,160.2 63.5,160.8 64.0,161.5 64.5,162.2 65.0,162.8 65.5,163.4 66.0,164.0 66.5,164.5 67.0,165.1 67.5,165.6 68.0,166.2 68.5,166.7 69.0,167.2 69.5,167.7 70.0,168.1 70.5,168.6 71.0,169.0 71.5,169.4 72.0,169.9 72.5,170.3 73.0,170.8 73.5,171.2 74.0,171.6 74.5,172.0 75.0,172.3 75.5,172.6 76.0,172.8 76.5,173.0 77.0,173.0 77.5,172.9 78.0,172.8 78.5,172.6 79.0,172.3 79.5,172.0 80.0,171.7 80.5,171.3 81.0,171.0 81.5,170.7 82.0,170.3 82.5,170.0 83.0,169.6 83.5,169.2 84.0,168.8 84.5,168.4 85.0,168.0 85.5,167.6 86.0,167.2 86.5,166.8 87.0,166.4 87.5,166.1 88.0,165.7 88.5,165.3 89.0,165.0 89.5,164.7 90.0,164.4 90.5,164.1 91.0,163.9 91.5,163.7 92.0,163.4 92.5,163.2 93.0,163.0 93.5,162.8 94.0,162.7 94.5,162.6 95.0,162.5 95.5,162.4 96.0,162.4 96.5,162.4 97.0,162.3 97.5,162.3 98.0,162.3 98.5,162.2 99.0,162.2 99.5,162.2 100.0,162.2 100.5,162.2 101.0,162.3 101.5,162.4 102.0,162.5 102.5,162.6 103.0,162.8 103.5,163.0 104.0,163.1 104.5,163.3 105.0,163.5 105.5,163.7 106.0,164.0 106.5,164.3 107.0,164.6 107.5,165.0 108.0,165.3 108.5,165.6 109.0,165.8 109.5,165.9 110.0,166.0 110.5,166.0 111.0,165.9 111.5,165.7 112.0,165.5 112.5,165.3 113.0,165.0 113.5,164.8 114.0,164.5 114.5,164.2 115.0,163.7 115.5,163.3 116.0,162.7 116.5,162.2 117.0,161.7 117.5,161.3 118.0,161.0 118.5,160.8 119.0,160.5 119.5,160.3 120.0,160.1 120.5,159.9 121.0,159.7 121.5,159.6 122.0,159.5 122.5,159.4 123.0,159.4 123.5,159.4 124.0,159.6 124.5,159.8 125.0,160.0 125.5,160.3 126.0,160.6 126.5,161.0 127.0,161.3 127.5,161.7 128.0,162.0 128.5,162.3 129.0,162.7 129.5,163.1 130.0,163.5 130.5,164.0 131.0,164.5 131.5,164.9 132.0,165.4 132.5,165.9 133.0,166.3 133.5,166.8 134.0,167.2 134.5,167.6 135.0,168.0 135.5,168.4 136.0,168.8 136.5,169.2 137.0,169.6 137.5,170.0 138.0,170.4 138.5,170.8 139.0,171.2 139.5,171.5 140.0,171.8 140.5,172.1 141.0,172.2 141.5,172.4 142.0,172.4 142.5,172.4 143.0,172.3 143.5,172.2 144.0,172.0 144.5,171.8 145.0,171.6 145.5,171.4 146.0,171.1 146.5,170.8 147.0,170.6 147.5,170.3 148.0,170.0 148.5,169.7 149.0,169.4 149.5,169.0 150.0,168.6 150.5,168.1 151.0,167.7 151.5,167.3 152.0,166.8 152.5,166.4 153.0,166.0 153.5,165.6 154.0,165.2 154.5,164.8 155.0,164.3 155.5,163.9 156.0,163.5 156.5,163.2 157.0,162.9 157.5,162.6 158.0,162.4 158.5,162.2 159.0,162.1 159.5,161.9 160.0,161.8 160.5,161.7 161.0,161.6 161.5,161.5 162.0,161.5 162.5,161.5 163.0,161.5 163.5,161.6 164.0,161.7 164.5,161.7 165.0,161.8 165.5,161.9 166.0,162.0 166.5,162.1 167.0,162.2 167.5,162.3 168.0,162.4 168.5,162.5 169.0,162.7 169.5,162.8 170.0,162.9 170.5,163.1 171.0,163.2 171.5,163.4 172.0,163.5 172.5,163.7 173.0,163.8 173.5,164.0 174.0,164.2 174.5,164.4 175.0,164.6 175.5,164.8 176.0,164.9 176.5,165.0 177.0,165.0 177.5,165.0 178.0,164.8 178.5,164.7 179.0,164.5 179.5,164.2 180.0,164.0 180.5,163.7 181.0,163.4 181.5,163.0 182.0,162.6 182.5,162.2 183.0,161.8 183.5,161.4 184.0,161.0 184.5,160.6 185.0,160.3 185.5,159.9 186.0,159.5 186.5,159.1 187.0,158.7 187.5,158.4 188.0,158.2 188.5,158.1 189.0,158.0 189.5,158.0 190.0,158.1 190.5,158.3 191.0,158.4 191.5,158.7 192.0,158.9 192.5,159.2 193.0,159.4 193.5,159.7 194.0,160.0 194.5,160.3 195.0,160.6 195.5,161.0 196.0,161.4 196.5,161.9 197.0,162.3 197.5,162.8 198.0,163.2 198.5,163.7 199.0,164.2 199.5,164.6 200.0,165.0 200.5,165.4 201.0,165.9 201.5,166.3 202.0,166.8 202.5,167.3 203.0,167.8 203.5,168.3 204.0,168.8 204.5,169.2 205.0,169.7 205.5,170.0 206.0,170.4 206.5,170.6 207.0,170.8 207.5,171.0 208.0,171.0 208.5,170.9 209.0,170.8 209.5,170.5 210.0,170.1 210.5,169.7 211.0,169.2 211.5,168.7 212.0,168.1 212.5,167.6 213.0,167.0 213.5,166.5 214.0,166.0 214.5,165.5 215.0,165.0 215.5,164.5 216.0,164.0 216.5,163.4 217.0,162.9 217.5,162.4 218.0,162.0 218.5,161.6 219.0,161.2 219.5,160.8 220.0,160.4 220.5,160.0 221.0,159.6 221.5,159.3 222.0,159.0 222.5,158.7 223.0,158.4 223.5,158.1 224.0,157.9 224.5,157.6 225.0,157.4 225.5,157.2 226.0,157.0 226.5,156.8 227.0,156.7 227.5,156.5 228.0,156.4 228.5,156.3 229.0,156.2 229.5,156.1 230.0,156.0 230.5,155.9 231.0,155.8 231.5,155.7 232.0,155.7 232.5,155.6 233.0,155.5 233.5,155.5 234.0,155.5 234.5,155.5 235.0,155.6 235.5,155.7 236.0,155.9 236.5,156.0 237.0,156.2 237.5,156.4 238.0,156.5 238.5,156.6 239.0,156.8 239.5,157.0 240.0,157.1 240.5,157.3 241.0,157.4 241.5,157.5 242.0,157.5 242.5,157.5 243.0,157.4 243.5,157.3 244.0,157.2 244.5,157.1 245.0,157.0 245.5,156.9 246.0,156.7 246.5,156.5 247.0,156.3 247.5,156.1 248.0,155.8 248.5,155.7 249.0,155.5 249.5,155.4 250.0,155.2 250.5,155.1 251.0,154.9 251.5,154.8 252.0,154.7 252.5,154.5 253.0,154.5 253.5,154.4 254.0,154.4 254.5,154.5 255.0,154.7 255.5,154.9 256.0,155.3 256.5,155.7 257.0,156.2 257.5,156.7 258.0,157.1 258.5,157.6 259.0,158.0 259.5,158.4 260.0,158.8 260.5,159.1 261.0,159.5 261.5,159.9 262.0,160.3 262.5,160.7 263.0,161.1 263.5,161.6 264.0,162.0 264.5,162.5 265.0,163.0 265.5,163.6 266.0,164.2 266.5,164.7 267.0,165.3 267.5,165.9 268.0,166.5 268.5,166.9 269.0,167.4 269.5,167.7 270.0,168.0 270.5,168.2 271.0,168.4 271.5,168.6 272.0,168.8 272.5,169.0 273.0,169.1 273.5,169.2 274.0,169.3 274.5,169.4 275.0,169.4 275.5,169.3 276.0,169.2 276.5,168.9 277.0,168.6 277.5,168.2 278.0,167.7 278.5,167.3 279.0,166.8 279.5,166.4 280.0,166.0 280.5,165.6 281.0,165.2 281.5,164.8 282.0,164.4 282.5,163.9 283.0,163.5 283.5,163.1 284.0,162.6 284.5,162.2 285.0,161.8 285.5,161.4 286.0,161.0 286.5,160.6 287.0,160.2 287.5,159.8 288.0,159.5 288.5,159.1 289.0,158.7 289.5,158.4 290.0,158.1 290.5,157.8 291.0,157.5 291.5,157.2 292.0,157.0 292.5,156.7 293.0,156.5 293.5,156.2 294.0,156.0 294.5,155.9 295.0,155.7 295.5,155.6 296.0,155.6 296.5,155.6 297.0,155.6 297.5,155.7 298.0,155.7 298.5,155.8 299.0,155.9 299.5,156.0 300.0,156.1 300.5,156.2 301.0,156.3 301.5,156.4 302.0,156.5 302.5,156.6 303.0,156.8 303.5,157.0 304.0,157.3 304.5,157.5 305.0,157.7 305.5,157.9 306.0,158.0 306.5,158.1 307.0,158.2 307.5,158.3 308.0,158.4 308.5,158.5 309.0,158.5 309.5,158.6 310.0,158.6 310.5,158.6 311.0,158.5 311.5,158.3 312.0,158.1 312.5,157.8 313.0,157.6 313.5,157.3 314.0,157.0 314.5,156.7 315.0,156.5 315.5,156.2 316.0,155.9 316.5,155.6 317.0,155.3 317.5,155.0 318.0,154.7 318.5,154.4 319.0,154.2 319.5,154.0 320.0,154.0 320.5,154.1 321.0,154.3 321.5,154.6 322.0,155.1 322.5,155.6 323.0,156.2 323.5,156.7 324.0,157.4 324.5,157.9 325.0,158.5 325.5,159.1 326.0,159.7 326.5,160.4 327.0,161.2 327.5,161.9 328.0,162.6 328.5,163.3 329.0,164.0 329.5,164.5 330.0,165.0 330.5,165.4 331.0,165.8 331.5,166.1 332.0,166.4 332.5,166.8 333.0,167.0 333.5,167.3 334.0,167.6 334.5,167.8 335.0,168.0 335.5,168.2 336.0,168.4 336.5,168.7 337.0,168.9 337.5,169.1 338.0,169.2 338.5,169.4 339.0,169.5 339.5,169.6 340.0,169.6 340.5,169.6 341.0,169.5 341.5,169.3 342.0,169.1 342.5,168.8 343.0,168.6 343.5,168.3 344.0,168.0 344.5,167.7 345.0,167.2 345.5,166.8 346.0,166.2 346.5,165.7 347.0,165.1 347.5,164.5 348.0,164.0 348.5,163.5 349.0,163.0 349.5,162.5 350.0,161.9 350.5,161.4 351.0,160.9 351.5,160.4 352.0,159.9 352.5,159.4 353.0,158.9 353.5,158.4 354.0,158.0 354.5,157.6 355.0,157.1 355.5,156.7 356.0,156.3 356.5,155.9 357.0,155.5 357.5,155.2 358.0,155.0 358.5,154.8 359.0,154.6 359.5,154.5 360.0,154.3 360.5,154.2 361.0,154.1 361.5,154.0 362.0,154.0 362.5,154.0 363.0,154.1 363.5,154.2 364.0,154.4 364.5,154.5 365.0,154.7 365.5,154.8 366.0,155.0 366.5,155.2 367.0,155.3 367.5,155.5 368.0,155.7 368.5,155.9 369.0,156.1 369.5,156.3 370.0,156.4 370.5,156.5 371.0,156.6 371.5,156.7 372.0,156.8 372.5,156.9 373.0,156.9 373.5,157.0 374.0,157.0 374.5,157.0 375.0,157.0 375.5,157.0 376.0,157.0 376.5,157.0 377.0,157.0 377.5,156.9 378.0,156.6 378.5,156.2 379.0,155.8 379.5,155.3 380.0,155.0 380.5,154.7 381.0,154.4 381.5,154.1 382.0,153.9 382.5,153.7 383.0,153.5 383.5,153.4 384.0,153.3 384.5,153.2 385.0,153.1 385.5,153.0 386.0,153.0 386.5,153.1 387.0,153.4 387.5,153.8 388.0,154.3 388.5,154.8 389.0,155.4 389.5,156.0 390.0,156.5 390.5,157.0 391.0,157.6 391.5,158.3 392.0,158.9 392.5,159.6 393.0,160.2 393.5,160.8 394.0,161.4 394.5,162.0 395.0,162.4 395.5,162.8 396.0,163.2 396.5,163.5 397.0,163.8 397.5,164.1 398.0,164.4 398.5,164.7 399.0,165.0 399.5,165.2 400.0,165.5 400.5,165.8 401.0,166.1 401.5,166.4 402.0,166.7 402.5,167.1 403.0,167.4 403.5,167.6 404.0,167.9 404.5,168.1 405.0,168.3 405.5,168.4 406.0,168.4 406.5,168.4 407.0,168.2 407.5,168.0 408.0,167.8 408.5,167.5 409.0,167.1 409.5,166.8 410.0,166.5 410.5,166.2 411.0,165.8 411.5,165.4 412.0,164.9 412.5,164.4 413.0,164.0 413.5,163.5 414.0,163.0 414.5,162.5 415.0,162.0 415.5,161.5 416.0,160.9 416.5,160.3 417.0,159.8 417.5,159.2 418.0,158.7 418.5,158.2 419.0,157.8 419.5,157.4 420.0,157.0 420.5,156.7 421.0,156.4 421.5,156.1 422.0,155.9 422.5,155.6 423.0,155.4 423.5,155.2 424.0,155.0 424.5,154.8 425.0,154.6 425.5,154.4 426.0,154.2 426.5,154.0 427.0,153.9 427.5,153.8 428.0,153.8 428.5,153.8 429.0,153.8 429.5,153.9 430.0,154.0 430.5,154.0 431.0,154.1 431.5,154.2 432.0,154.3 432.5,154.4 433.0,154.5 433.5,154.6 434.0,154.7 434.5,154.9 435.0,155.0 435.5,155.2 436.0,155.4 436.5,155.5 437.0,155.7 437.5,155.9 438.0,156.0 438.5,156.1 439.0,156.3 439.5,156.5 440.0,156.6 440.5,156.8 441.0,156.9 441.5,157.0 442.0,157.0 442.5,156.9 443.0,156.8 443.5,156.6 444.0,156.4 444.5,156.2 445.0,155.9 445.5,155.6 446.0,155.2 446.5,154.9 447.0,154.6 447.5,154.3 448.0,154.0 448.5,153.7 449.0,153.5 449.5,153.2 450.0,153.0 450.5,152.7 451.0,152.6 451.5,152.4 452.0,152.4 452.5,152.5 453.0,152.7 453.5,152.9 454.0,153.3 454.5,153.7 455.0,154.2 455.5,154.6 456.0,155.0 456.5,155.4 457.0,155.9 457.5,156.4 458.0,156.9 458.5,157.5 459.0,158.0 459.5,158.5 460.0,159.0 460.5,159.4 461.0,159.9 461.5,160.3 462.0,160.7 462.5,161.1 463.0,161.4 463.5,161.8 464.0,162.2 464.5,162.6 465.0,163.0 465.5,163.4 466.0,163.8 466.5,164.2 467.0,164.6 467.5,165.0 468.0,165.5 468.5,165.9 469.0,166.3 469.5,166.6 470.0,167.0 470.5,167.4 471.0,167.8 471.5,168.3 472.0,168.6 472.5,168.9 473.0,169.0 473.5,168.9 474.0,168.8 474.5,168.6 475.0,168.3 475.5,168.0 476.0,167.7 476.5,167.3 477.0,167.0 477.5,166.7 478.0,166.3 478.5,165.9 479.0,165.5 479.5,165.1 480.0,164.7 480.5,164.3 481.0,163.8 481.5,163.4 482.0,163.0 482.5,162.6 483.0,162.2 483.5,161.8 484.0,161.4 484.5,160.9 485.0,160.5 485.5,160.1 486.0,159.7 486.5,159.4 487.0,159.0 487.5,158.7 488.0,158.3 488.5,158.0 489.0,157.6 489.5,157.3 490.0,157.0 490.5,156.7 491.0,156.5 491.5,156.3 492.0,156.0 492.5,155.8 493.0,155.5 493.5,155.3 494.0,155.1 494.5,155.0 495.0,155.0 495.5,155.0 496.0,155.2 496.5,155.3 497.0,155.5 497.5,155.8 498.0,156.0 498.5,156.3 499.0,156.5 499.5,156.7 500.0,157.0 500.5,157.2 501.0,157.5 501.5,157.7 502.0,158.0" fill="none" stroke="#b40000" stroke-width="1.1" stroke-linejoin="round" />
<polygon points="36.5,455.7 36.5,360.0 37.0,359.4 37.5,358.9 38.0,358.5 38.5,358.3 39.0,358.1 39.5,358.0 40.0,358.0 40.5,358.2 41.0,358.6 41.5,359.1 42.0,359.8 42.5,360.4 43.0,361.0 43.5,361.6 44.0,362.2 44.5,362.9 45.0,363.4 45.5,363.8 46.0,364.0 46.5,364.0 47.0,363.9 47.5,363.7 48.0,363.5 48.5,363.3 49.0,363.0 49.5,362.6 50.0,362.0 50.5,361.3 51.0,360.5 51.5,359.8 52.0,359.0 52.5,358.1 53.0,357.1 53.5,356.3 54.0,356.0 54.5,356.0 55.0,356.0 55.5,356.0 56.0,356.0 56.5,356.0 57.0,356.0 57.5,356.0 58.0,356.0 58.5,356.0 59.0,356.0 59.5,356.2 60.0,356.7 60.5,357.4 61.0,358.2 61.5,359.1 62.0,360.0 62.5,361.0 63.0,362.1 63.5,363.1 64.0,364.0 64.5,364.6 65.0,365.2 65.5,365.7 66.0,366.2 66.5,366.6 67.0,367.1 67.5,367.5 68.0,368.0 68.5,368.5 69.0,369.0 69.5,369.5 70.0,370.0 70.5,370.5 71.0,371.0 71.5,371.5 72.0,372.0 72.5,372.5 73.0,373.0 73.5,373.5 74.0,374.0 74.5,374.4 75.0,374.8 75.5,375.2 76.0,375.5 76.5,375.8 77.0,376.0 77.5,376.3 78.0,376.5 78.5,376.7 79.0,376.9 79.5,377.0 80.0,377.0 80.5,377.0 81.0,376.9 81.5,376.7 82.0,376.5 82.5,376.3 83.0,376.0 83.5,375.8 84.0,375.5 84.5,375.2 85.0,374.9 85.5,374.5 86.0,374.0 86.5,373.6 87.0,373.1 87.5,372.6 88.0,372.0 88.5,371.4 89.0,370.7 89.5,369.9 90.0,369.1 90.5,368.3 91.0,367.5 91.5,366.7 92.0,365.9 92.5,365.1 93.0,364.3 93.5,363.6 94.0,363.0 94.5,362.5 95.0,362.0 95.5,361.6 96.0,361.2 96.5,360.8 97.0,360.5 97.5,360.2 98.0,359.8 98.5,359.5 99.0,359.2 99.5,359.1 100.0,359.0 100.5,359.0 101.0,359.1 101.5,359.2 102.0,359.3 102.5,359.4 103.0,359.5 103.5,359.7 104.0,359.9 104.5,360.2 105.0,360.4 105.5,360.7 106.0,361.0 106.5,361.2 107.0,361.5 107.5,361.8 108.0,362.0 108.5,362.2 109.0,362.5 109.5,362.8 110.0,363.0 110.5,363.2 111.0,363.5 111.5,363.8 112.0,364.0 112.5,364.3 113.0,364.6 113.5,364.9 114.0,365.2 114.5,365.5 115.0,365.8 115.5,365.9 116.0,366.0 116.5,365.8 117.0,365.3 117.5,364.7 118.0,364.0 118.5,363.3 119.0,362.4 119.5,361.6 120.0,361.0 120.5,360.6 121.0,360.3 121.5,360.0 122.0,359.8 122.5,359.7 123.0,359.6 123.5,359.8 124.0,360.4 124.5,361.2 125.0,362.0 125.5,363.0 126.0,364.3 126.5,365.8 127.0,367.4 127.5,368.8 128.0,370.0 128.5,371.0 129.0,371.8 129.5,372.6 130.0,373.4 130.5,374.2 131.0,375.0 131.5,375.8 132.0,376.7 132.5,377.6 133.0,378.4 133.5,379.2 134.0,380.0 134.5,380.7 135.0,381.4 135.5,382.1 136.0,382.8 136.5,383.4 137.0,384.0 137.5,384.6 138.0,385.3 138.5,385.8 139.0,386.0 139.5,385.9 140.0,385.8 140.5,385.5 141.0,385.3 141.5,385.0 142.0,384.7 142.5,384.2 143.0,383.7 143.5,383.3 144.0,383.0 144.5,382.8 145.0,382.7 145.5,382.6 146.0,382.5 146.5,382.4 147.0,382.3 147.5,382.2 148.0,382.0 148.5,381.7 149.0,381.3 149.5,380.9 150.0,380.4 150.5,380.1 151.0,380.0 151.5,380.2 152.0,380.6 152.5,381.1 153.0,381.5 153.5,381.8 154.0,382.0 154.5,381.6 155.0,380.7 155.5,379.3 156.0,377.8 156.5,376.3 157.0,375.0 157.5,373.9 158.0,372.8 158.5,371.7 159.0,370.7 159.5,369.8 160.0,369.0 160.5,368.3 161.0,367.7 161.5,367.2 162.0,366.6 162.5,366.1 163.0,365.5 163.5,365.0 164.0,364.5 164.5,363.8 165.0,363.0 165.5,361.2 166.0,359.0 166.5,357.2 167.0,356.0 167.5,355.6 168.0,355.3 168.5,355.0 169.0,354.9 169.5,354.7 170.0,354.5 170.5,354.3 171.0,354.0 171.5,353.8 172.0,353.6 172.5,353.5 173.0,353.4 173.5,353.5 174.0,353.8 174.5,354.3 175.0,354.7 175.5,355.0 176.0,355.3 176.5,355.5 177.0,355.8 177.5,355.9 178.0,356.0 178.5,356.0 179.0,355.9 179.5,355.8 180.0,355.6 180.5,355.5 181.0,355.5 181.5,355.5 182.0,355.6 182.5,355.6 183.0,355.7 183.5,355.8 184.0,356.0 184.5,356.8 185.0,358.0 185.5,359.2 186.0,360.0 186.5,359.8 187.0,359.2 187.5,358.5 188.0,358.0 188.5,357.7 189.0,357.3 189.5,357.1 190.0,357.0 190.5,357.2 191.0,357.7 191.5,358.4 192.0,359.2 192.5,360.0 193.0,360.8 193.5,361.8 194.0,362.9 194.5,364.0 195.0,365.0 195.5,366.0 196.0,367.1 196.5,368.1 197.0,369.0 197.5,369.9 198.0,370.8 198.5,371.5 199.0,372.0 199.5,372.2 200.0,372.4 200.5,372.5 201.0,372.6 201.5,372.8 202.0,373.0 202.5,373.6 203.0,374.5 203.5,375.6 204.0,376.5 204.5,377.3 205.0,378.1 205.5,378.7 206.0,379.0 206.5,378.8 207.0,378.5 207.5,378.0 208.0,377.5 208.5,377.0 209.0,376.5 209.5,376.0 210.0,375.5 210.5,375.0 211.0,374.6 211.5,374.1 212.0,373.7 212.5,373.3 213.0,372.8 213.5,372.4 214.0,372.0 214.5,371.6 215.0,371.2 215.5,370.9 216.0,370.5 216.5,370.2 217.0,369.8 217.5,369.4 218.0,369.0 218.5,368.5 219.0,368.0 219.5,367.4 220.0,366.9 220.5,366.3 221.0,365.7 221.5,365.1 222.0,364.5 222.5,363.9 223.0,363.3 223.5,362.8 224.0,362.2 224.5,361.6 225.0,361.0 225.5,360.5 226.0,360.0 226.5,359.5 227.0,359.1 227.5,358.7 228.0,358.3 228.5,357.9 229.0,357.5 229.5,357.1 230.0,356.8 230.5,356.4 231.0,356.1 231.5,355.6 232.0,355.0 232.5,354.0 233.0,352.5 233.5,351.0 234.0,349.4 234.5,347.8 235.0,346.0 235.5,343.9 236.0,341.6 236.5,339.4 237.0,338.0 237.5,337.1 238.0,336.3 238.5,335.7 239.0,335.2 239.5,335.0 240.0,335.2 240.5,335.9 241.0,336.8 241.5,337.9 242.0,339.0 242.5,340.1 243.0,341.3 243.5,342.6 244.0,343.8 244.5,345.0 245.0,346.0 245.5,346.8 246.0,347.6 246.5,348.3 247.0,348.9 247.5,349.5 248.0,350.1 248.5,350.8 249.0,351.4 249.5,351.8 250.0,352.0 250.5,352.0 251.0,352.0 251.5,352.0 252.0,352.0 252.5,352.0 253.0,352.0 253.5,352.0 254.0,352.0 254.5,352.0 255.0,352.0 255.5,352.3 256.0,353.1 256.5,354.0 257.0,355.0 257.5,355.9 258.0,357.0 258.5,358.0 259.0,359.0 259.5,359.8 260.0,360.6 260.5,361.4 261.0,362.2 261.5,363.0 262.0,364.0 262.5,365.0 263.0,366.1 263.5,367.1 264.0,368.0 264.5,368.8 265.0,369.5 265.5,370.1 266.0,370.7 266.5,371.4 267.0,372.0 267.5,372.7 268.0,373.4 268.5,374.1 269.0,374.7 269.5,375.4 270.0,376.0 270.5,376.6 271.0,377.1 271.5,377.6 272.0,378.1 272.5,378.6 273.0,379.1 273.5,379.5 274.0,379.9 274.5,380.4 275.0,380.9 275.5,381.3 276.0,381.7 276.5,381.9 277.0,382.0 277.5,382.0 278.0,381.9 278.5,381.8 279.0,381.7 279.5,381.6 280.0,381.5 280.5,381.4 281.0,381.2 281.5,380.9 282.0,380.7 282.5,380.3 283.0,380.0 283.5,379.6 284.0,379.0 284.5,378.3 285.0,377.5 285.5,376.8 286.0,376.0 286.5,375.2 287.0,374.2 287.5,373.3 288.0,372.4 288.5,371.6 289.0,371.0 289.5,370.6 290.0,370.3 290.5,370.0 291.0,369.8 291.5,369.5 292.0,369.2 292.5,369.0 293.0,368.7 293.5,368.4 294.0,368.0 294.5,367.4 295.0,366.7 295.5,365.8 296.0,364.9 296.5,364.0 297.0,363.2 297.5,362.4 298.0,361.5 298.5,360.7 299.0,360.0 299.5,359.3 300.0,358.5 300.5,357.9 301.0,357.5 301.5,357.2 302.0,357.1 302.5,357.0 303.0,357.1 303.5,357.3 304.0,357.6 304.5,358.0 305.0,358.5 305.5,359.3 306.0,360.0 306.5,360.7 307.0,361.4 307.5,362.1 308.0,362.8 308.5,363.4 309.0,364.0 309.5,364.6 310.0,365.3 310.5,365.8 311.0,366.0 311.5,365.8 312.0,365.4 312.5,364.9 313.0,364.5 313.5,364.1 314.0,363.6 314.5,363.2 315.0,363.0 315.5,362.9 316.0,362.8 316.5,362.7 317.0,362.6 317.5,362.6 318.0,362.5 318.5,362.4 319.0,362.3 319.5,362.2 320.0,362.1 320.5,362.0 321.0,362.0 321.5,362.2 322.0,362.6 322.5,363.3 323.0,364.0 323.5,364.8 324.0,365.5 324.5,366.2 325.0,366.8 325.5,367.6 326.0,368.3 326.5,369.1 327.0,370.0 327.5,371.0 328.0,372.1 328.5,373.3 329.0,374.6 329.5,375.8 330.0,377.0 330.5,378.2 331.0,379.4 331.5,380.6 332.0,381.8 332.5,383.0 333.0,384.0 333.5,385.0 334.0,385.9 334.5,386.7 335.0,387.5 335.5,388.3 336.0,389.2 336.5,390.0 337.0,390.9 337.5,391.8 338.0,392.7 338.5,393.6 339.0,394.4 339.5,395.2 340.0,396.0 340.5,396.7 341.0,397.4 341.5,398.0 342.0,398.5 342.5,399.0 343.0,399.5 343.5,399.9 344.0,400.0 344.5,399.3 345.0,397.6 345.5,395.6 346.0,394.0 346.5,392.8 347.0,391.6 347.5,390.6 348.0,390.0 348.5,389.8 349.0,389.6 349.5,389.5 350.0,389.4 350.5,389.2 351.0,389.0 351.5,388.6 352.0,388.1 352.5,387.4 353.0,386.6 353.5,385.8 354.0,385.0 354.5,384.2 355.0,383.4 355.5,382.5 356.0,381.6 356.5,380.7 357.0,380.0 357.5,379.3 358.0,378.7 358.5,378.2 359.0,377.6 359.5,377.1 360.0,376.5 360.5,375.9 361.0,375.3 361.5,374.7 362.0,374.1 362.5,373.6 363.0,373.0 363.5,372.5 364.0,372.0 364.5,371.5 365.0,371.0 365.5,370.5 366.0,370.0 366.5,369.5 367.0,368.9 367.5,368.4 368.0,367.9 368.5,367.5 369.0,367.2 369.5,366.9 370.0,366.6 370.5,366.5 371.0,366.4 371.5,366.6 372.0,367.2 372.5,368.1 373.0,369.0 373.5,370.0 374.0,371.1 374.5,372.4 375.0,373.8 375.5,375.1 376.0,376.0 376.5,376.7 377.0,377.4 377.5,378.0 378.0,378.5 378.5,378.9 379.0,379.0 379.5,378.8 380.0,378.3 380.5,377.7 381.0,377.0 381.5,376.3 382.0,375.5 382.5,374.7 383.0,374.0 383.5,373.4 384.0,372.9 384.5,372.4 385.0,371.9 385.5,371.5 386.0,371.1 386.5,370.7 387.0,370.3 387.5,370.1 388.0,370.0 388.5,370.0 389.0,370.1 389.5,370.3 390.0,370.5 390.5,370.7 391.0,371.0 391.5,371.5 392.0,372.2 392.5,373.1 393.0,374.1 393.5,375.0 394.0,375.9 394.5,376.9 395.0,377.9 395.5,378.9 396.0,380.0 396.5,381.1 397.0,382.2 397.5,383.4 398.0,384.5 398.5,385.8 399.0,387.3 399.5,388.5 400.0,389.0 400.5,388.7 401.0,388.0 401.5,387.3 402.0,387.0 402.5,387.2 403.0,387.7 403.5,388.4 404.0,389.2 404.5,389.9 405.0,390.5 405.5,391.0 406.0,391.6 406.5,392.1 407.0,392.6 407.5,392.9 408.0,393.0 408.5,392.9 409.0,392.8 409.5,392.5 410.0,392.2 410.5,391.8 411.0,391.5 411.5,391.2 412.0,390.8 412.5,390.4 413.0,389.9 413.5,389.5 414.0,389.0 414.5,388.5 415.0,387.9 415.5,387.3 416.0,386.6 416.5,386.0 417.0,385.4 417.5,384.8 418.0,384.2 418.5,383.6 419.0,383.0 419.5,382.5 420.0,382.0 420.5,381.5 421.0,381.0 421.5,380.5 422.0,380.0 422.5,379.5 423.0,379.0 423.5,378.5 424.0,378.0 424.5,377.4 425.0,376.8 425.5,376.1 426.0,375.4 426.5,374.7 427.0,374.0 427.5,373.3 428.0,372.7 428.5,372.0 429.0,371.3 429.5,370.7 430.0,370.0 430.5,369.3 431.0,368.7 431.5,368.0 432.0,367.5 432.5,367.1 433.0,366.7 433.5,366.4 434.0,366.0 434.5,365.5 435.0,364.9 435.5,364.5 436.0,364.3 436.5,364.1 437.0,364.0 437.5,364.1 438.0,364.5 438.5,365.0 439.0,365.5 439.5,366.0 440.0,366.6 440.5,367.3 441.0,368.0 441.5,368.7 442.0,369.5 442.5,370.3 443.0,371.0 443.5,371.7 444.0,372.3 444.5,372.8 445.0,373.0 445.5,372.9 446.0,372.7 446.5,372.5 447.0,372.2 447.5,372.0 448.0,371.8 448.5,371.6 449.0,371.4 449.5,371.2 450.0,371.0 450.5,370.7 451.0,370.2 451.5,369.8 452.0,369.3 452.5,369.0 453.0,368.7 453.5,368.5 454.0,368.2 454.5,368.1 455.0,368.0 455.5,368.2 456.0,368.6 456.5,369.2 457.0,369.9 457.5,370.5 458.0,371.1 458.5,371.8 459.0,372.5 459.5,373.2 460.0,374.0 460.5,374.8 461.0,375.7 461.5,376.6 462.0,377.6 462.5,378.5 463.0,379.4 463.5,380.3 464.0,381.2 464.5,382.1 465.0,383.0 465.5,383.9 466.0,384.8 466.5,385.7 467.0,386.5 467.5,387.3 468.0,388.1 468.5,388.7 469.0,389.0 469.5,388.8 470.0,388.5 470.5,388.3 471.0,388.2 471.5,388.0 472.0,388.0 472.5,388.1 473.0,388.5 473.5,388.9 474.0,389.2 474.5,389.5 475.0,389.6 475.5,389.8 476.0,389.9 476.5,390.0 477.0,390.0 477.5,389.5 478.0,388.4 478.5,387.1 479.0,386.0 479.5,385.1 480.0,384.2 480.5,383.5 481.0,383.0 481.5,382.7 482.0,382.5 482.5,382.3 483.0,382.2 483.5,382.1 484.0,382.0 484.5,381.6 485.0,380.9 485.5,380.0 486.0,379.0 486.5,377.9 487.0,377.0 487.5,376.2 488.0,375.4 488.5,374.6 489.0,373.8 489.5,372.9 490.0,372.0 490.5,371.0 491.0,369.9 491.5,368.8 492.0,367.6 492.5,366.5 493.0,365.4 493.5,364.2 494.0,363.0 494.5,362.0 495.0,361.0 495.5,360.1 496.0,359.4 496.5,358.6 497.0,358.0 497.5,357.3 498.0,356.7 498.5,356.2 499.0,356.0 499.5,356.0 500.0,356.0 500.5,356.0 501.0,356.0 501.5,356.0 502.0,356.0 502.0,455.7" fill="#000000" />
<polygon points="36.5,455.7 36.5,361.0 37.0,360.4 37.5,359.8 38.0,359.5 38.5,359.3 39.0,359.1 39.5,359.0 40.0,359.0 40.5,359.4 41.0,360.4 41.5,361.8 42.0,363.2 42.5,364.5 43.0,365.7 43.5,367.0 44.0,368.4 44.5,370.0 45.0,372.0 45.5,374.4 46.0,376.9 46.5,379.5 47.0,381.9 47.5,384.1 48.0,386.6 48.5,389.4 49.0,393.0 49.5,397.5 50.0,402.1 50.5,406.7 51.0,411.4 51.5,415.4 52.0,418.3 52.5,420.9 53.0,422.9 53.5,424.2 54.0,425.0 54.5,425.5 55.0,425.7 55.5,425.9 56.0,426.1 56.5,426.2 57.0,426.3 57.5,426.4 58.0,426.5 58.5,426.6 59.0,426.7 59.5,426.8 60.0,427.0 60.5,427.2 61.0,427.6 61.5,427.9 62.0,428.3 62.5,428.8 63.0,429.2 63.5,429.7 64.0,430.1 64.5,430.6 65.0,431.0 65.5,431.4 66.0,431.8 66.5,432.2 67.0,432.6 67.5,433.0 68.0,433.4 68.5,433.8 69.0,434.2 69.5,434.6 70.0,435.0 70.5,435.4 71.0,435.8 71.5,436.2 72.0,436.6 72.5,437.0 73.0,437.4 73.5,437.8 74.0,438.2 74.5,438.6 75.0,439.0 75.5,439.4 76.0,439.8 76.5,440.2 77.0,440.6 77.5,441.0 78.0,441.4 78.5,441.8 79.0,442.2 79.5,442.6 80.0,443.0 80.5,443.4 81.0,443.9 81.5,444.3 82.0,444.7 82.5,445.2 83.0,445.6 83.5,446.1 84.0,446.5 84.5,446.9 85.0,447.4 85.5,447.8 86.0,448.2 86.5,448.7 87.0,449.1 87.5,449.5 88.0,450.0 88.5,450.5 89.0,451.0 89.5,451.5 90.0,452.0 90.5,452.5 91.0,453.0 91.5,453.5 92.0,454.0 92.5,454.6 93.0,455.0 93.5,455.4 94.0,455.5 94.5,455.5 95.0,455.5 95.5,455.5 96.0,455.5 96.5,455.5 97.0,455.5 97.5,455.5 98.0,455.5 98.5,455.5 99.0,455.5 99.5,455.5 100.0,455.6 100.5,455.6 101.0,455.6 101.5,455.6 102.0,455.6 102.5,455.6 103.0,455.6 103.5,455.6 104.0,455.6 104.5,455.6 105.0,455.6 105.5,455.6 106.0,455.6 106.5,455.6 107.0,455.6 107.5,455.6 108.0,455.6 108.5,455.6 109.0,455.6 109.5,455.6 110.0,455.6 110.5,455.6 111.0,455.6 111.5,455.6 112.0,455.6 112.5,455.6 113.0,455.6 113.5,455.6 114.0,455.6 114.5,455.6 115.0,455.6 115.5,455.6 116.0,455.6 116.5,455.6 117.0,455.6 117.5,455.6 118.0,455.6 118.5,455.5 119.0,455.4 119.5,455.2 120.0,455.0 120.5,454.8 121.0,454.7 121.5,454.5 122.0,454.4 122.5,454.2 123.0,454.1 123.5,453.9 124.0,453.8 124.5,453.6 125.0,453.4 125.5,453.3 126.0,453.1 126.5,453.0 127.0,452.8 127.5,452.7 128.0,452.5 128.5,452.3 129.0,452.2 129.5,452.0 130.0,451.9 130.5,451.7 131.0,451.6 131.5,451.4 132.0,451.3 132.5,451.1 133.0,451.0 133.5,450.8 134.0,450.7 134.5,450.5 135.0,450.3 135.5,450.2 136.0,450.0 136.5,449.8 137.0,449.7 137.5,449.5 138.0,449.3 138.5,449.1 139.0,448.9 139.5,448.8 140.0,448.6 140.5,448.4 141.0,448.2 141.5,448.0 142.0,447.8 142.5,447.6 143.0,447.4 143.5,447.2 144.0,447.0 144.5,446.8 145.0,446.5 145.5,446.2 146.0,445.9 146.5,445.6 147.0,445.3 147.5,445.1 148.0,444.8 148.5,444.6 149.0,444.4 149.5,444.3 150.0,444.3 150.5,444.3 151.0,444.5 151.5,444.7 152.0,444.9 152.5,445.2 153.0,445.4 153.5,445.7 154.0,446.0 154.5,446.3 155.0,446.6 155.5,446.9 156.0,447.3 156.5,447.7 157.0,448.0 157.5,448.4 158.0,448.8 158.5,449.2 159.0,449.6 159.5,449.9 160.0,450.0 160.5,449.0 161.0,446.6 161.5,443.4 162.0,440.0 162.5,436.2 163.0,431.7 163.5,427.4 164.0,423.2 164.5,419.3 165.0,415.9 165.5,412.7 166.0,409.3 166.5,405.8 167.0,402.9 167.5,400.3 168.0,397.9 168.5,395.5 169.0,392.9 169.5,390.3 170.0,388.1 170.5,386.6 171.0,385.6 171.5,384.9 172.0,384.4 172.5,384.1 173.0,384.0 173.5,384.3 174.0,384.6 174.5,385.1 175.0,385.7 175.5,386.6 176.0,387.8 176.5,389.6 177.0,391.7 177.5,393.9 178.0,396.0 178.5,398.0 179.0,400.0 179.5,402.0 180.0,404.0 180.5,405.9 181.0,407.7 181.5,409.7 182.0,412.0 182.5,415.3 183.0,418.9 183.5,421.4 184.0,423.4 184.5,425.0 185.0,426.3 185.5,427.5 186.0,428.5 186.5,429.3 187.0,430.0 187.5,430.6 188.0,431.1 188.5,431.5 189.0,431.9 189.5,432.2 190.0,432.5 190.5,432.8 191.0,433.0 191.5,433.3 192.0,433.5 192.5,433.7 193.0,433.9 193.5,434.0 194.0,434.0 194.5,433.9 195.0,433.8 195.5,433.5 196.0,433.2 196.5,432.8 197.0,432.5 197.5,432.2 198.0,431.8 198.5,431.4 199.0,430.9 199.5,430.5 200.0,430.0 200.5,429.5 201.0,429.1 201.5,428.6 202.0,428.0 202.5,427.5 203.0,427.0 203.5,426.5 204.0,426.0 204.5,425.5 205.0,425.0 205.5,424.4 206.0,423.9 206.5,423.4 207.0,422.9 207.5,422.4 208.0,422.0 208.5,421.6 209.0,421.2 209.5,420.8 210.0,420.4 210.5,420.0 211.0,419.6 211.5,419.3 212.0,419.0 212.5,418.7 213.0,418.4 213.5,418.1 214.0,417.9 214.5,417.6 215.0,417.4 215.5,417.2 216.0,417.0 216.5,416.8 217.0,416.7 217.5,416.5 218.0,416.3 218.5,416.2 219.0,416.1 219.5,416.0 220.0,416.0 220.5,416.0 221.0,416.0 221.5,416.0 222.0,416.0 222.5,416.0 223.0,416.0 223.5,416.0 224.0,416.0 224.5,416.0 225.0,416.0 225.5,415.6 226.0,414.5 226.5,411.4 227.0,407.7 227.5,404.3 228.0,401.0 228.5,397.7 229.0,394.3 229.5,391.0 230.0,387.7 230.5,384.3 231.0,381.0 231.5,377.7 232.0,374.3 232.5,371.0 233.0,367.6 233.5,363.9 234.0,361.0 234.5,359.0 235.0,357.3 235.5,356.0 236.0,355.0 236.5,354.3 237.0,353.6 237.5,353.2 238.0,353.0 238.5,353.2 239.0,353.7 239.5,354.3 240.0,355.0 240.5,355.7 241.0,356.6 241.5,357.6 242.0,358.8 242.5,360.1 243.0,361.7 243.5,364.1 244.0,366.9 244.5,369.5 245.0,371.9 245.5,374.3 246.0,377.0 246.5,380.2 247.0,383.6 247.5,386.9 248.0,390.1 248.5,393.9 249.0,398.9 249.5,404.2 250.0,409.0 250.5,412.5 251.0,415.5 251.5,418.0 252.0,420.5 252.5,422.7 253.0,424.0 253.5,424.6 254.0,425.0 254.5,425.3 255.0,425.6 255.5,426.0 256.0,426.4 256.5,426.8 257.0,427.2 257.5,427.6 258.0,428.0 258.5,428.5 259.0,428.9 259.5,429.4 260.0,429.9 260.5,430.5 261.0,431.0 261.5,431.5 262.0,432.0 262.5,432.5 263.0,433.1 263.5,433.7 264.0,434.3 264.5,434.9 265.0,435.5 265.5,436.0 266.0,436.4 266.5,436.8 267.0,437.0 267.5,437.2 268.0,437.3 268.5,437.5 269.0,437.6 269.5,437.7 270.0,437.8 270.5,437.9 271.0,437.9 271.5,438.0 272.0,438.0 272.5,438.0 273.0,437.9 273.5,437.7 274.0,437.5 274.5,437.2 275.0,437.0 275.5,436.8 276.0,436.5 276.5,436.3 277.0,436.1 277.5,436.0 278.0,436.0 278.5,436.0 279.0,436.0 279.5,436.0 280.0,436.1 280.5,436.1 281.0,436.1 281.5,436.2 282.0,436.2 282.5,436.2 283.0,436.3 283.5,436.3 284.0,436.4 284.5,436.5 285.0,436.6 285.5,436.8 286.0,437.0 286.5,437.3 287.0,437.5 287.5,437.8 288.0,438.0 288.5,438.3 289.0,438.6 289.5,438.8 290.0,439.0 290.5,439.2 291.0,439.4 291.5,439.6 292.0,439.8 292.5,440.0 293.0,440.0 293.5,436.2 294.0,430.0 294.5,425.2 295.0,420.6 295.5,416.8 296.0,413.6 296.5,410.4 297.0,407.4 297.5,403.9 298.0,398.0 298.5,390.0 299.0,383.8 299.5,379.7 300.0,376.4 300.5,373.8 301.0,371.9 301.5,370.5 302.0,369.4 302.5,368.8 303.0,368.3 303.5,367.9 304.0,367.8 304.5,367.9 305.0,368.3 305.5,368.7 306.0,369.2 306.5,369.8 307.0,370.6 307.5,371.6 308.0,372.6 308.5,373.9 309.0,375.5 309.5,377.2 310.0,379.0 310.5,380.8 311.0,382.8 311.5,384.8 312.0,387.0 312.5,389.4 313.0,391.9 313.5,394.5 314.0,397.1 314.5,399.9 315.0,402.5 315.5,404.8 316.0,406.9 316.5,409.0 317.0,411.0 317.5,413.4 318.0,416.1 318.5,418.4 319.0,419.6 319.5,419.8 320.0,420.0 320.5,420.0 321.0,419.9 321.5,419.5 322.0,419.0 322.5,418.4 323.0,418.0 323.5,417.6 324.0,417.2 324.5,416.7 325.0,416.4 325.5,416.1 326.0,416.0 326.5,416.0 327.0,416.0 327.5,416.1 328.0,416.1 328.5,416.2 329.0,416.2 329.5,416.3 330.0,416.4 330.5,416.5 331.0,416.6 331.5,416.7 332.0,416.8 332.5,416.9 333.0,417.0 333.5,417.1 334.0,417.3 334.5,417.6 335.0,417.8 335.5,418.1 336.0,418.4 336.5,418.8 337.0,419.1 337.5,419.5 338.0,419.8 338.5,420.1 339.0,420.5 339.5,420.7 340.0,421.0 340.5,421.2 341.0,421.5 341.5,421.7 342.0,421.9 342.5,422.1 343.0,422.3 343.5,422.5 344.0,422.6 344.5,422.8 345.0,423.0 345.5,423.2 346.0,423.4 346.5,423.5 347.0,423.7 347.5,423.9 348.0,424.1 348.5,424.3 349.0,424.5 349.5,424.8 350.0,425.0 350.5,425.3 351.0,425.6 351.5,425.9 352.0,426.3 352.5,426.7 353.0,427.0 353.5,427.4 354.0,427.8 354.5,428.1 355.0,428.4 355.5,428.6 356.0,428.8 356.5,429.0 357.0,429.0 357.5,428.7 358.0,428.0 358.5,427.1 359.0,426.0 359.5,424.6 360.0,423.0 360.5,421.7 361.0,420.0 361.5,416.2 362.0,410.6 362.5,405.0 363.0,399.8 363.5,394.6 364.0,390.0 364.5,386.3 365.0,382.9 365.5,379.6 366.0,376.2 366.5,373.4 367.0,371.7 367.5,370.3 368.0,369.3 368.5,368.5 369.0,367.9 369.5,367.3 370.0,366.8 370.5,366.5 371.0,366.4 371.5,366.5 372.0,366.9 372.5,367.5 373.0,368.2 373.5,369.0 374.0,369.8 374.5,370.8 375.0,372.0 375.5,373.4 376.0,375.0 376.5,376.7 377.0,379.0 377.5,381.5 378.0,383.9 378.5,386.3 379.0,388.8 379.5,392.1 380.0,396.3 380.5,400.4 381.0,404.5 381.5,408.2 382.0,411.6 382.5,415.3 383.0,419.0 383.5,421.1 384.0,422.5 384.5,423.6 385.0,424.5 385.5,425.4 386.0,426.2 386.5,426.8 387.0,427.0 387.5,427.0 388.0,427.0 388.5,427.0 389.0,427.0 389.5,427.0 390.0,427.0 390.5,427.0 391.0,427.0 391.5,427.0 392.0,427.0 392.5,427.0 393.0,427.0 393.5,427.0 394.0,427.0 394.5,427.0 395.0,426.9 395.5,426.8 396.0,426.7 396.5,426.6 397.0,426.5 397.5,426.4 398.0,426.3 398.5,426.2 399.0,426.1 399.5,426.0 400.0,426.0 400.5,426.0 401.0,426.0 401.5,426.0 402.0,426.0 402.5,426.0 403.0,425.9 403.5,425.8 404.0,425.7 404.5,425.6 405.0,425.5 405.5,425.4 406.0,425.3 406.5,425.2 407.0,425.1 407.5,425.0 408.0,425.0 408.5,425.0 409.0,425.1 409.5,425.2 410.0,425.3 410.5,425.5 411.0,425.7 411.5,425.9 412.0,426.1 412.5,426.3 413.0,426.6 413.5,426.8 414.0,427.0 414.5,427.2 415.0,427.5 415.5,427.7 416.0,428.0 416.5,428.3 417.0,428.6 417.5,428.9 418.0,429.2 418.5,429.5 419.0,429.9 419.5,430.2 420.0,430.6 420.5,430.9 421.0,431.3 421.5,431.6 422.0,432.0 422.5,432.5 423.0,433.0 423.5,433.5 424.0,433.9 424.5,433.9 425.0,432.4 425.5,429.7 426.0,427.0 426.5,425.0 427.0,423.0 427.5,420.6 428.0,417.1 428.5,412.6 429.0,408.0 429.5,403.7 430.0,399.4 430.5,395.1 431.0,390.8 431.5,386.5 432.0,382.4 432.5,378.1 433.0,374.3 433.5,371.6 434.0,369.7 434.5,368.2 435.0,367.0 435.5,366.0 436.0,365.0 436.5,364.3 437.0,364.0 437.5,364.2 438.0,364.6 438.5,365.2 439.0,365.9 439.5,366.6 440.0,367.5 440.5,368.5 441.0,369.7 441.5,371.1 442.0,372.7 442.5,375.0 443.0,377.7 443.5,380.5 444.0,383.2 444.5,386.0 445.0,388.9 445.5,391.6 446.0,394.3 446.5,396.9 447.0,399.6 447.5,402.3 448.0,405.0 448.5,407.5 449.0,410.0 449.5,412.5 450.0,415.1 450.5,417.7 451.0,420.0 451.5,422.2 452.0,424.1 452.5,425.0 453.0,424.8 453.5,424.3 454.0,423.7 454.5,423.1 455.0,422.5 455.5,422.0 456.0,421.6 456.5,421.1 457.0,420.7 457.5,420.3 458.0,420.0 458.5,419.7 459.0,419.4 459.5,419.0 460.0,418.7 460.5,418.4 461.0,418.2 461.5,417.9 462.0,417.7 462.5,417.5 463.0,417.3 463.5,417.1 464.0,417.0 464.5,416.9 465.0,416.8 465.5,416.7 466.0,416.6 466.5,416.5 467.0,416.4 467.5,416.4 468.0,416.3 468.5,416.2 469.0,416.1 469.5,416.1 470.0,416.0 470.5,416.0 471.0,415.9 471.5,415.9 472.0,415.9 472.5,415.8 473.0,415.8 473.5,415.8 474.0,415.8 474.5,415.8 475.0,415.8 475.5,415.9 476.0,415.9 476.5,416.0 477.0,416.1 477.5,416.2 478.0,416.3 478.5,416.4 479.0,416.6 479.5,416.7 480.0,416.8 480.5,417.0 481.0,417.1 481.5,417.3 482.0,417.4 482.5,417.6 483.0,417.7 483.5,417.9 484.0,418.0 484.5,418.2 485.0,418.3 485.5,418.5 486.0,418.8 486.5,419.0 487.0,419.2 487.5,419.4 488.0,419.6 488.5,419.8 489.0,419.9 489.5,420.0 490.0,420.0 490.5,419.1 491.0,417.0 491.5,415.0 492.0,413.5 492.5,411.9 493.0,410.0 493.5,407.2 494.0,403.6 494.5,400.0 495.0,396.6 495.5,393.3 496.0,390.0 496.5,386.9 497.0,384.0 497.5,381.0 498.0,377.7 498.5,374.5 499.0,372.0 499.5,370.3 500.0,369.0 500.5,368.0 501.0,367.2 501.5,366.5 502.0,366.0 502.0,455.7" fill="#4589d3" />
<polygon points="116.0,443.4 131.2,441.5 133.2,446.4 134.8,448.8 137.2,450.0 139.5,450.8 139.5,453.0 116.0,453.5" fill="#44792c" />
<polygon points="115.0,430.0 116.5,431.0 118.0,433.0 120.0,435.6 121.5,433.5 123.0,430.5 124.4,428.6 125.2,428.0 126.0,428.6 127.0,430.5 128.8,434.4 130.0,438.0 131.2,441.5 116.0,443.4 115.0,443.4" fill="#bf8f00" />
<polygon points="116.0,452.2 128.0,452.0 138.0,450.6 139.5,450.8 139.5,456.0 116.0,456.0" fill="#4589d3" />
<polygon points="120.5,452.4 131.0,451.9 121.0,454.8" fill="#1f3864" />
<polygon points="319.5,420.5 319.5,420.0 320.0,419.5 320.5,418.9 321.0,418.2 321.5,417.4 322.0,416.5 322.5,415.5 323.0,414.3 323.5,413.0 324.0,411.5 324.5,410.0 325.0,408.7 325.5,407.6 326.0,407.0 326.5,406.4 327.0,406.1 327.5,406.2 328.0,406.6 328.5,407.1 329.0,407.8 329.5,408.8 330.0,410.0 330.5,411.5 331.0,413.0 331.5,414.0 332.0,414.8 332.5,415.5 333.0,416.1 333.5,416.6 334.0,417.0 334.5,417.4 335.0,417.8 335.5,418.2 336.0,418.5 336.0,420.5" fill="#44792c" />
<polygon points="387.5,427.4 387.5,427.0 388.0,426.2 388.5,425.4 389.0,424.4 389.5,423.5 390.0,422.4 390.5,421.3 391.0,420.3 391.5,419.4 392.0,418.5 392.5,418.0 393.0,418.2 393.5,418.8 394.0,419.7 394.5,420.5 395.0,421.6 395.5,422.5 396.0,423.2 396.5,423.9 397.0,424.5 397.5,425.1 398.0,425.6 398.5,426.1 399.0,426.5 399.0,427.4" fill="#44792c" />
<polygon points="452.0,423.5 453.5,420.5 455.5,416.5 457.5,411.5 458.6,409.8 459.4,409.2 460.2,409.9 461.4,413.0 463.0,415.7 465.0,416.6 467.0,416.5 462.0,418.0 457.0,421.5 452.0,426.0" fill="#44792c" />
<polygon points="36.5,455.7 36.5,397.0 37.0,396.2 37.5,395.6 38.0,395.2 38.5,395.0 39.1,395.0 39.6,395.3 40.1,396.0 40.6,396.8 41.1,397.7 41.6,398.5 42.1,399.5 42.6,400.6 43.1,401.9 43.7,403.5 44.2,405.3 44.7,407.3 45.2,409.3 45.7,411.4 46.2,413.6 46.7,415.8 47.2,418.1 47.8,420.3 48.3,422.6 48.8,425.0 49.3,427.3 49.8,429.6 50.3,431.8 50.8,434.1 51.3,436.5 51.8,439.2 52.4,442.0 52.9,445.1 53.4,448.5 53.9,452.0 54.4,455.7 54.4,455.7" fill="#ffed00" />
<polygon points="93.0,455.7 93.0,455.7 93.5,453.3 94.0,450.7 94.5,447.8 95.0,444.7 95.5,441.4 96.0,437.8 96.5,433.7 97.0,429.5 97.5,425.9 98.0,422.7 98.5,419.3 99.0,415.3 99.5,411.3 100.0,408.0 100.5,405.4 101.0,403.2 101.5,401.3 102.0,399.6 102.5,398.0 103.0,396.6 103.5,395.6 104.0,395.1 104.5,394.8 105.0,394.6 105.5,394.5 106.0,394.6 106.5,394.9 107.0,395.2 107.5,395.8 108.0,396.7 108.5,397.8 109.0,399.1 109.5,400.4 110.0,402.0 110.5,403.8 111.0,405.7 111.5,407.6 112.0,409.6 112.5,411.6 113.0,413.7 113.5,415.9 114.0,418.2 114.5,420.5 115.0,422.8 115.5,425.3 116.0,428.0 116.5,431.0 117.0,434.3 117.5,437.7 118.0,441.1 118.5,444.6 119.0,448.2 119.5,451.9 120.0,455.7 120.0,455.7" fill="#ffed00" />
<polygon points="159.3,455.7 159.3,455.7 159.8,453.0 160.3,450.2 160.8,447.2 161.3,444.2 161.8,441.1 162.3,437.9 162.8,434.6 163.3,431.1 163.8,427.8 164.3,424.4 164.8,421.1 165.3,417.7 165.8,414.3 166.4,411.1 166.9,408.0 167.4,405.2 167.9,402.7 168.4,400.4 168.9,398.8 169.4,397.9 169.9,397.2 170.4,396.8 170.9,396.9 171.4,397.3 171.9,397.9 172.4,398.5 172.9,399.4 173.4,400.4 173.9,401.6 174.4,402.9 174.9,404.3 175.4,405.8 175.9,407.4 176.4,409.1 176.9,410.9 177.4,413.0 177.9,415.5 178.4,418.2 178.9,420.7 179.5,423.1 180.0,425.5 180.5,427.8 181.0,430.1 181.5,432.3 182.0,434.5 182.5,436.9 183.0,439.3 183.5,441.9 184.0,444.5 184.5,447.2 185.0,449.9 185.5,452.8 186.0,455.7 186.0,455.7" fill="#ffed00" />
<polygon points="225.6,455.7 225.6,455.7 226.1,451.4 226.6,447.3 227.1,443.4 227.6,439.6 228.1,435.9 228.6,432.4 229.2,429.0 229.7,425.8 230.2,422.8 230.7,419.9 231.2,416.9 231.7,413.9 232.2,410.9 232.7,408.3 233.2,406.2 233.7,404.5 234.2,403.0 234.7,401.7 235.2,400.4 235.7,399.1 236.3,397.9 236.8,396.9 237.3,396.1 237.8,395.2 238.3,394.5 238.8,394.0 239.3,394.1 239.8,394.5 240.3,395.3 240.8,396.2 241.3,397.2 241.8,398.8 242.3,400.7 242.9,402.5 243.4,404.1 243.9,405.5 244.4,406.9 244.9,408.3 245.4,410.0 245.9,411.9 246.4,414.0 246.9,416.3 247.4,418.7 247.9,421.0 248.4,423.4 248.9,425.9 249.4,428.5 250.0,431.6 250.5,434.9 251.0,438.5 251.5,442.4 252.0,446.6 252.5,451.0 253.0,455.7 253.0,455.7" fill="#ffed00" />
<polygon points="292.0,455.7 292.0,455.7 292.5,452.1 293.0,448.6 293.5,445.2 294.0,441.9 294.5,438.8 295.0,435.8 295.5,432.8 296.0,430.0 296.5,427.4 297.0,425.0 297.5,422.6 298.0,420.0 298.5,417.0 299.0,413.8 299.5,410.7 300.0,408.0 300.5,405.9 301.0,404.0 301.5,401.7 302.0,399.3 302.5,397.5 303.0,396.2 303.5,395.0 304.0,394.2 304.5,394.0 305.0,394.5 305.5,395.4 306.0,396.5 306.5,397.5 307.0,398.3 307.5,399.1 308.0,399.9 308.5,400.8 309.0,402.0 309.5,403.8 310.0,406.2 310.5,409.1 311.0,412.1 311.5,415.0 312.0,417.9 312.5,420.9 313.0,424.0 313.5,427.1 314.0,430.0 314.5,432.8 315.0,435.5 315.5,438.2 316.0,440.9 316.5,443.5 317.0,446.0 317.5,448.6 318.0,451.0 318.5,453.4 319.0,455.7 319.0,455.7" fill="#ffed00" />
<polygon points="359.0,455.7 359.0,455.7 359.5,451.1 360.0,446.6 360.5,442.2 361.0,438.0 361.5,434.0 362.0,430.0 362.5,426.2 363.0,422.7 363.5,419.1 364.0,415.5 364.5,411.4 365.0,407.2 365.5,403.6 366.0,401.0 366.5,399.3 367.0,397.8 367.5,396.5 368.0,395.5 368.5,394.6 369.0,393.9 369.5,393.2 370.0,392.6 370.5,392.2 371.0,392.0 371.5,392.2 372.0,392.6 372.5,393.2 373.0,393.9 373.5,394.6 374.0,395.4 374.5,396.2 375.0,397.1 375.5,398.1 376.0,399.3 376.5,400.7 377.0,402.6 377.5,405.3 378.0,408.5 378.5,411.8 379.0,415.0 379.5,417.9 380.0,420.8 380.5,423.7 381.0,426.7 381.5,430.0 382.0,433.3 382.5,436.8 383.0,440.3 383.5,444.0 384.0,447.8 384.5,451.7 385.0,455.7 385.0,455.7" fill="#ffed00" />
<polygon points="425.0,455.7 425.0,455.7 425.5,451.8 426.0,447.9 426.5,444.1 427.0,440.4 427.5,436.7 428.0,433.1 428.5,429.5 429.0,426.0 429.5,422.5 430.0,419.1 430.5,415.9 431.0,412.8 431.5,409.8 432.0,406.9 432.5,404.4 433.0,402.3 433.5,400.3 434.0,398.7 434.5,397.6 435.0,396.6 435.5,395.7 436.0,395.2 436.5,395.0 437.0,395.3 437.5,395.9 438.0,396.8 438.5,397.7 439.0,398.5 439.5,399.5 440.0,400.7 440.5,402.0 441.0,403.3 441.5,404.8 442.0,406.5 442.5,408.4 443.0,410.4 443.5,412.4 444.0,414.5 444.5,416.7 445.0,419.0 445.5,421.5 446.0,424.2 446.5,427.1 447.0,430.0 447.5,433.0 448.0,436.0 448.5,439.1 449.0,442.3 449.5,445.5 450.0,448.8 450.5,452.2 451.0,455.7 451.0,455.7" fill="#ffed00" />
<polygon points="491.0,455.7 491.0,455.7 491.5,452.5 492.0,449.3 492.5,446.1 493.0,442.9 493.5,439.7 494.0,436.5 494.5,433.2 495.0,430.0 495.5,426.7 496.0,423.3 496.5,420.0 497.0,417.0 497.5,414.5 498.0,412.0 498.5,409.1 499.0,405.9 499.5,402.7 500.0,400.0 500.5,397.7 501.0,395.6 501.5,393.6 502.0,392.0 502.0,455.7" fill="#ffed00" />
<line x1="36.5" y1="343.0" x2="502.0" y2="343.0" stroke="#e2e2e2" stroke-width="1.2" />
<line x1="36.5" y1="371.2" x2="502.0" y2="371.2" stroke="#cfcfcf" stroke-width="0.8" opacity="0.55"/>
<line x1="36.5" y1="399.4" x2="502.0" y2="399.4" stroke="#cfcfcf" stroke-width="0.8" opacity="0.55"/>
<line x1="36.5" y1="427.5" x2="502.0" y2="427.5" stroke="#cfcfcf" stroke-width="0.8" opacity="0.55"/>
<line x1="36.5" y1="481.8" x2="502.0" y2="481.8" stroke="#e4e4e4" stroke-width="1.0" />
<line x1="36.5" y1="498.8" x2="502.0" y2="498.8" stroke="#ececec" stroke-width="1.0" />
<line x1="36.5" y1="451.3" x2="502.0" y2="451.3" stroke="#ffffff" stroke-width="1.25" />
<polygon points="36.5,455.7 118.7,455.7 117.5,458.5 115.5,460.0 36.5,460.0" fill="#a5a5a5" />
<line x1="37.5" y1="456.9" x2="117.7" y2="456.9" stroke="#ed7d31" stroke-width="1.2" stroke-dasharray="1.7 1.05"/>
<polygon points="137.0,455.7 155.0,455.7 153.5,460.0 152.0,462.4 141.0,462.4 139.0,460.0" fill="#a5a5a5" />
<line x1="138.0" y1="456.9" x2="154.0" y2="456.9" stroke="#ed7d31" stroke-width="1.2" stroke-dasharray="1.7 1.05"/>
<line x1="143.0" y1="462.8" x2="150.0" y2="462.8" stroke="#1f8a8a" stroke-width="0.9" opacity="0.85"/>
<polygon points="165.0,455.7 190.0,455.7 188.5,460.0 187.0,462.4 169.0,462.4 167.0,460.0" fill="#a5a5a5" />
<line x1="166.0" y1="456.9" x2="189.0" y2="456.9" stroke="#ed7d31" stroke-width="1.2" stroke-dasharray="1.7 1.05"/>
<line x1="171.0" y1="462.8" x2="185.0" y2="462.8" stroke="#1f8a8a" stroke-width="0.9" opacity="0.85"/>
<polygon points="198.7,455.7 290.7,455.7 289.5,459.0 287.0,462.4 268.0,462.4 265.0,460.2 254.0,460.2 251.0,462.4 203.7,462.4 201.0,460.0" fill="#a5a5a5" />
<line x1="199.7" y1="456.9" x2="289.7" y2="456.9" stroke="#ed7d31" stroke-width="1.2" stroke-dasharray="1.7 1.05"/>
<line x1="270.0" y1="462.8" x2="285.0" y2="462.8" stroke="#1f8a8a" stroke-width="0.9" opacity="0.85"/>
<line x1="205.7" y1="462.8" x2="249.0" y2="462.8" stroke="#1f8a8a" stroke-width="0.9" opacity="0.85"/>
<polygon points="297.7,455.7 320.6,455.7 318.5,460.0 316.5,462.4 301.5,462.4 299.5,460.0" fill="#a5a5a5" />
<line x1="298.7" y1="456.9" x2="319.6" y2="456.9" stroke="#ed7d31" stroke-width="1.2" stroke-dasharray="1.7 1.05"/>
<line x1="303.5" y1="462.8" x2="314.5" y2="462.8" stroke="#1f8a8a" stroke-width="0.9" opacity="0.85"/>
<polygon points="344.0,455.7 352.0,455.7 350.5,459.0 349.0,460.2 347.0,460.2 345.5,459.0" fill="#a5a5a5" />
<line x1="345.0" y1="456.9" x2="351.0" y2="456.9" stroke="#ed7d31" stroke-width="1.2" stroke-dasharray="1.7 1.05"/>
<polygon points="358.0,455.7 385.0,455.7 371.8,471.5" fill="#a5a5a5" />
<line x1="359.0" y1="456.9" x2="384.0" y2="456.9" stroke="#ed7d31" stroke-width="1.2" stroke-dasharray="1.7 1.05"/>
<polygon points="400.0,455.7 421.0,455.7 419.5,460.0 418.0,462.4 404.0,462.4 402.0,460.0" fill="#a5a5a5" />
<line x1="401.0" y1="456.9" x2="420.0" y2="456.9" stroke="#ed7d31" stroke-width="1.2" stroke-dasharray="1.7 1.05"/>
<line x1="406.0" y1="462.8" x2="416.0" y2="462.8" stroke="#1f8a8a" stroke-width="0.9" opacity="0.85"/>
<polygon points="426.0,455.7 452.0,455.7 450.5,460.0 449.0,462.4 430.0,462.4 428.0,460.0" fill="#a5a5a5" />
<line x1="427.0" y1="456.9" x2="451.0" y2="456.9" stroke="#ed7d31" stroke-width="1.2" stroke-dasharray="1.7 1.05"/>
<line x1="432.0" y1="462.8" x2="447.0" y2="462.8" stroke="#1f8a8a" stroke-width="0.9" opacity="0.85"/>
<polygon points="468.7,455.7 485.7,455.7 484.3,460.0 483.0,462.4 472.0,462.4 470.3,460.0" fill="#a5a5a5" />
<line x1="469.7" y1="456.9" x2="484.7" y2="456.9" stroke="#ed7d31" stroke-width="1.2" stroke-dasharray="1.7 1.05"/>
<line x1="474.0" y1="462.8" x2="481.0" y2="462.8" stroke="#1f8a8a" stroke-width="0.9" opacity="0.85"/>
<polygon points="492.6,455.7 502.0,455.7 502.0,462.4 496.0,462.4 494.3,460.0" fill="#a5a5a5" />
<line x1="493.6" y1="456.9" x2="501.0" y2="456.9" stroke="#ed7d31" stroke-width="1.2" stroke-dasharray="1.7 1.05"/>
<polygon points="366.0,455.7 377.4,455.7 371.8,465.5" fill="#000000" />
<polyline points="358.0,455.7 371.8,471.5 385.0,455.7" fill="none" stroke="#1f8a8a" stroke-width="0.7" stroke-linejoin="round" opacity="0.75"/>
<polygon points="37.0,456.0 41.5,456.0 39.2,459.2" fill="#000000" />
<line x1="62.0" y1="463.0" x2="89.0" y2="463.0" stroke="#1f8a8a" stroke-width="0.9" />
<polyline points="36.5,365.0 37.0,365.4 37.5,365.8 38.0,366.2 38.5,366.5 39.0,366.9 39.5,367.2 40.0,367.5 40.5,367.8 41.0,368.1 41.5,368.5 42.0,368.8 42.5,369.1 43.0,369.4 43.5,369.6 44.0,369.8 44.5,370.0 45.0,370.0 45.5,370.0 46.0,369.9 46.5,369.7 47.0,369.5 47.5,369.3 48.0,369.0 48.5,368.6 49.0,368.2 49.5,367.6 50.0,367.0 50.5,366.4 51.0,365.7 51.5,365.0 52.0,364.2 52.5,363.6 53.0,363.0 53.5,362.5 54.0,361.9 54.5,361.4 55.0,361.0 55.5,360.7 56.0,360.6 56.5,360.6 57.0,360.7 57.5,360.8 58.0,361.0 58.5,361.3 59.0,361.7 59.5,362.3 60.0,363.0 60.5,363.8 61.0,364.8 61.5,365.9 62.0,367.1 62.5,368.3 63.0,369.5 63.5,370.7 64.0,372.0 64.5,373.3 65.0,374.6 65.5,375.9 66.0,377.0 66.5,378.0 67.0,379.0 67.5,380.0 68.0,380.9 68.5,381.8 69.0,382.6 69.5,383.5 70.0,384.4 70.5,385.2 71.0,386.1 71.5,386.9 72.0,387.6 72.5,388.4 73.0,389.0 73.5,389.6 74.0,390.2 74.5,390.7 75.0,391.2 75.5,391.5 76.0,391.8 76.5,392.0 77.0,392.2 77.5,392.3 78.0,392.4 78.5,392.3 79.0,392.2 79.5,391.9 80.0,391.6 80.5,391.3 81.0,391.0 81.5,390.6 82.0,390.2 82.5,389.8 83.0,389.2 83.5,388.6 84.0,388.0 84.5,387.2 85.0,386.3 85.5,385.3 86.0,384.2 86.5,383.1 87.0,382.0 87.5,380.9 88.0,379.7 88.5,378.4 89.0,377.2 89.5,376.0 90.0,375.0 90.5,374.0 91.0,373.1 91.5,372.3 92.0,371.5 92.5,370.7 93.0,370.0 93.5,369.3 94.0,368.7 94.5,368.0 95.0,367.5 95.5,367.0 96.0,366.6 96.5,366.3 97.0,366.0 97.5,365.8 98.0,365.6 98.5,365.4 99.0,365.3 99.5,365.2 100.0,365.1 100.5,365.1 101.0,365.0 101.5,365.0 102.0,365.0 102.5,365.0 103.0,365.1 103.5,365.2 104.0,365.3 104.5,365.5 105.0,365.7 105.5,365.8 106.0,366.0 106.5,366.2 107.0,366.4 107.5,366.7 108.0,366.9 108.5,367.2 109.0,367.5 109.5,367.8 110.0,368.0 110.5,368.2 111.0,368.5 111.5,368.8 112.0,369.0 112.5,369.3 113.0,369.4 113.5,369.6 114.0,369.6 114.5,369.4 115.0,369.0 115.5,368.4 116.0,367.7 116.5,367.0 117.0,366.3 117.5,365.4 118.0,364.5 118.5,363.7 119.0,363.0 119.5,362.4 120.0,361.9 120.5,361.4 121.0,361.0 121.5,360.6 122.0,360.2 122.5,359.9 123.0,359.8 123.5,359.9 124.0,360.2 124.5,360.6 125.0,361.0 125.5,361.5 126.0,362.1 126.5,362.9 127.0,364.0 127.5,366.4 128.0,369.0 128.5,370.4 129.0,371.5 129.5,372.5 130.0,373.3 130.5,374.1 131.0,375.0 131.5,375.9 132.0,376.7 132.5,377.5 133.0,378.3 133.5,379.2 134.0,380.0 134.5,380.9 135.0,381.8 135.5,382.8 136.0,383.7 136.5,384.5 137.0,385.3 137.5,386.0 138.0,386.7 138.5,387.4 139.0,388.0 139.5,388.6 140.0,389.2 140.5,389.7 141.0,390.2 141.5,390.5 142.0,390.8 142.5,391.1 143.0,391.3 143.5,391.4 144.0,391.5 144.5,391.4 145.0,391.3 145.5,391.1 146.0,390.8 146.5,390.5 147.0,390.2 147.5,389.7 148.0,389.2 148.5,388.6 149.0,388.0 149.5,387.4 150.0,386.7 150.5,385.9 151.0,385.1 151.5,384.3 152.0,383.5 152.5,382.6 153.0,381.7 153.5,380.8 154.0,379.9 154.5,378.9 155.0,378.0 155.5,377.1 156.0,376.2 156.5,375.3 157.0,374.4 157.5,373.5 158.0,372.6 158.5,371.6 159.0,370.7 159.5,369.8 160.0,369.0 160.5,368.3 161.0,367.7 161.5,367.0 162.0,366.5 162.5,366.0 163.0,365.5 163.5,365.0 164.0,364.6 164.5,364.1 165.0,363.8 165.5,363.5 166.0,363.4 166.5,363.4 167.0,363.3 167.5,363.3 168.0,363.3 168.5,363.3 169.0,363.3 169.5,363.3 170.0,363.4 170.5,363.5 171.0,363.7 171.5,363.8 172.0,364.0 172.5,364.2 173.0,364.5 173.5,364.8 174.0,365.1 174.5,365.4 175.0,365.7 175.5,366.0 176.0,366.3 176.5,366.5 177.0,366.8 177.5,367.1 178.0,367.3 178.5,367.4 179.0,367.5 179.5,367.4 180.0,367.3 180.5,367.1 181.0,366.8 181.5,366.5 182.0,366.2 182.5,365.7 183.0,365.2 183.5,364.6 184.0,364.0 184.5,363.3 185.0,362.4 185.5,361.6 186.0,360.7 186.5,360.0 187.0,359.3 187.5,358.7 188.0,358.1 188.5,357.7 189.0,357.5 189.5,357.6 190.0,357.8 190.5,358.1 191.0,358.5 191.5,358.9 192.0,359.5 192.5,360.2 193.0,361.0 193.5,361.9 194.0,363.0 194.5,364.2 195.0,365.5 195.5,366.8 196.0,368.0 196.5,369.2 197.0,370.4 197.5,371.6 198.0,372.8 198.5,374.0 199.0,375.0 199.5,376.0 200.0,376.9 200.5,377.8 201.0,378.6 201.5,379.4 202.0,380.2 202.5,381.0 203.0,381.8 203.5,382.5 204.0,383.3 204.5,384.0 205.0,384.7 205.5,385.4 206.0,386.0 206.5,386.6 207.0,387.3 207.5,387.9 208.0,388.4 208.5,388.8 209.0,389.1 209.5,389.5 210.0,389.7 210.5,389.9 211.0,390.0 211.5,389.9 212.0,389.8 212.5,389.6 213.0,389.3 213.5,388.8 214.0,388.1 214.5,387.3 215.0,386.5 215.5,385.7 216.0,384.9 216.5,384.1 217.0,383.3 217.5,382.4 218.0,381.5 218.5,380.6 219.0,379.6 219.5,378.6 220.0,377.5 220.5,376.2 221.0,374.7 221.5,373.3 222.0,372.0 222.5,370.9 223.0,369.9 223.5,368.9 224.0,368.1 224.5,367.2 225.0,366.5 225.5,365.8 226.0,365.1 226.5,364.5 227.0,363.9 227.5,363.4 228.0,363.0 228.5,362.7 229.0,362.4 229.5,362.1 230.0,361.8 230.5,361.6 231.0,361.5 231.5,361.4 232.0,361.3 232.5,361.2 233.0,361.1 233.5,361.0 234.0,361.0 234.5,361.1 235.0,361.2 235.5,361.4 236.0,361.6 236.5,361.9 237.0,362.2 237.5,362.5 238.0,362.8 238.5,363.1 239.0,363.5 239.5,363.9 240.0,364.3 240.5,364.7 241.0,365.0 241.5,365.3 242.0,365.6 242.5,365.9 243.0,366.1 243.5,366.3 244.0,366.5 244.5,366.7 245.0,366.8 245.5,367.0 246.0,367.0 246.5,366.9 247.0,366.7 247.5,366.3 248.0,365.9 248.5,365.5 249.0,365.1 249.5,364.6 250.0,364.1 250.5,363.5 251.0,363.0 251.5,362.4 252.0,361.8 252.5,361.1 253.0,360.5 253.5,360.0 254.0,359.5 254.5,359.0 255.0,358.5 255.5,358.1 256.0,358.0 256.5,358.1 257.0,358.3 257.5,358.7 258.0,359.0 258.5,359.4 259.0,359.8 259.5,360.4 260.0,361.0 260.5,361.9 261.0,363.0 261.5,364.3 262.0,365.7 262.5,367.0 263.0,368.4 263.5,369.8 264.0,371.3 264.5,372.7 265.0,374.0 265.5,375.2 266.0,376.3 266.5,377.4 267.0,378.5 267.5,379.5 268.0,380.5 268.5,381.5 269.0,382.5 269.5,383.5 270.0,384.4 270.5,385.2 271.0,386.0 271.5,386.7 272.0,387.4 272.5,388.0 273.0,388.5 273.5,389.0 274.0,389.5 274.5,389.9 275.0,390.4 275.5,390.8 276.0,391.2 276.5,391.4 277.0,391.5 277.5,391.5 278.0,391.3 278.5,391.1 279.0,390.9 279.5,390.6 280.0,390.3 280.5,390.0 281.0,389.5 281.5,389.0 282.0,388.4 282.5,387.7 283.0,387.0 283.5,386.2 284.0,385.3 284.5,384.3 285.0,383.2 285.5,382.1 286.0,381.0 286.5,379.9 287.0,378.6 287.5,377.4 288.0,376.2 288.5,375.0 289.0,374.0 289.5,373.1 290.0,372.2 290.5,371.4 291.0,370.7 291.5,370.0 292.0,369.3 292.5,368.6 293.0,367.9 293.5,367.4 294.0,367.0 294.5,366.7 295.0,366.5 295.5,366.3 296.0,366.1 296.5,366.0 297.0,365.9 297.5,365.7 298.0,365.6 298.5,365.5 299.0,365.5 299.5,365.5 300.0,365.6 300.5,365.7 301.0,365.8 301.5,365.9 302.0,366.0 302.5,366.1 303.0,366.3 303.5,366.6 304.0,366.8 304.5,367.1 305.0,367.4 305.5,367.7 306.0,368.0 306.5,368.3 307.0,368.6 307.5,369.0 308.0,369.4 308.5,369.7 309.0,370.0 309.5,370.3 310.0,370.6 310.5,371.0 311.0,371.2 311.5,371.4 312.0,371.5 312.5,371.4 313.0,371.1 313.5,370.6 314.0,370.2 314.5,369.7 315.0,369.2 315.5,368.7 316.0,368.2 316.5,367.6 317.0,367.0 317.5,366.3 318.0,365.6 318.5,364.9 319.0,364.3 319.5,363.7 320.0,363.1 320.5,362.7 321.0,362.5 321.5,362.6 322.0,363.0 322.5,363.4 323.0,364.0 323.5,364.5 324.0,365.1 324.5,365.7 325.0,366.4 325.5,367.2 326.0,368.0 326.5,369.0 327.0,370.1 327.5,371.3 328.0,372.5 328.5,373.8 329.0,375.0 329.5,376.2 330.0,377.4 330.5,378.6 331.0,379.7 331.5,380.9 332.0,382.0 332.5,383.1 333.0,384.1 333.5,385.1 334.0,386.1 334.5,387.1 335.0,388.1 335.5,389.0 336.0,389.9 336.5,390.8 337.0,391.8 337.5,392.6 338.0,393.5 338.5,394.3 339.0,395.0 339.5,395.7 340.0,396.3 340.5,397.0 341.0,397.5 341.5,398.1 342.0,398.5 342.5,398.9 343.0,399.3 343.5,399.7 344.0,399.9 344.5,400.0 345.0,399.8 345.5,399.3 346.0,398.6 346.5,398.0 347.0,397.3 347.5,396.6 348.0,395.7 348.5,394.9 349.0,394.0 349.5,393.1 350.0,392.2 350.5,391.3 351.0,390.4 351.5,389.4 352.0,388.5 352.5,387.6 353.0,386.6 353.5,385.6 354.0,384.7 354.5,383.8 355.0,383.0 355.5,382.3 356.0,381.7 356.5,381.1 357.0,380.5 357.5,380.0 358.0,379.5 358.5,379.0 359.0,378.5 359.5,378.2 360.0,378.0 360.5,377.9 361.0,377.8 361.5,377.8 362.0,377.7 362.5,377.7 363.0,377.7 363.5,377.8 364.0,377.8 364.5,377.9 365.0,378.0 365.5,378.2 366.0,378.5 366.5,378.8 367.0,379.2 367.5,379.6 368.0,380.0 368.5,380.3 369.0,380.7 369.5,381.0 370.0,381.3 370.5,381.6 371.0,382.0 371.5,382.4 372.0,382.8 372.5,383.3 373.0,383.7 373.5,384.1 374.0,384.5 374.5,384.8 375.0,385.2 375.5,385.5 376.0,385.8 376.5,385.9 377.0,386.0 377.5,385.9 378.0,385.7 378.5,385.3 379.0,384.9 379.5,384.5 380.0,384.1 380.5,383.7 381.0,383.2 381.5,382.6 382.0,382.0 382.5,381.2 383.0,380.2 383.5,379.1 384.0,378.0 384.5,377.0 385.0,375.9 385.5,374.9 386.0,374.0 386.5,373.2 387.0,372.5 387.5,372.0 388.0,371.5 388.5,371.2 389.0,371.0 389.5,371.1 390.0,371.5 390.5,372.0 391.0,372.5 391.5,373.0 392.0,373.6 392.5,374.2 393.0,375.0 393.5,375.9 394.0,377.1 394.5,378.3 395.0,379.5 395.5,380.6 396.0,381.8 396.5,382.9 397.0,384.0 397.5,385.1 398.0,386.1 398.5,387.2 399.0,388.2 399.5,389.1 400.0,390.0 400.5,390.8 401.0,391.6 401.5,392.3 402.0,393.0 402.5,393.7 403.0,394.4 403.5,395.1 404.0,395.8 404.5,396.4 405.0,397.0 405.5,397.5 406.0,398.0 406.5,398.5 407.0,398.9 407.5,399.4 408.0,399.7 408.5,399.9 409.0,400.0 409.5,399.9 410.0,399.7 410.5,399.4 411.0,399.1 411.5,398.7 412.0,398.3 412.5,397.8 413.0,397.3 413.5,396.7 414.0,396.0 414.5,395.2 415.0,394.3 415.5,393.2 416.0,392.1 416.5,391.0 417.0,390.0 417.5,389.0 418.0,387.9 418.5,386.9 419.0,385.8 419.5,384.9 420.0,384.0 420.5,383.2 421.0,382.5 421.5,381.8 422.0,381.1 422.5,380.5 423.0,379.9 423.5,379.4 424.0,378.8 424.5,378.4 425.0,378.0 425.5,377.7 426.0,377.4 426.5,377.2 427.0,376.9 427.5,376.8 428.0,376.6 428.5,376.5 429.0,376.3 429.5,376.2 430.0,376.1 430.5,376.0 431.0,376.0 431.5,376.1 432.0,376.3 432.5,376.6 433.0,377.0 433.5,377.3 434.0,377.7 434.5,378.0 435.0,378.4 435.5,378.8 436.0,379.2 436.5,379.6 437.0,380.0 437.5,380.4 438.0,380.8 438.5,381.2 439.0,381.6 439.5,382.0 440.0,382.3 440.5,382.7 441.0,383.0 441.5,383.4 442.0,383.7 442.5,383.9 443.0,384.0 443.5,383.9 444.0,383.5 444.5,383.0 445.0,382.5 445.5,382.0 446.0,381.5 446.5,380.9 447.0,380.3 447.5,379.7 448.0,379.0 448.5,378.2 449.0,377.3 449.5,376.4 450.0,375.4 450.5,374.5 451.0,373.5 451.5,372.5 452.0,371.6 452.5,370.7 453.0,370.0 453.5,369.5 454.0,369.0 454.5,368.7 455.0,368.4 455.5,368.1 456.0,368.0 456.5,368.2 457.0,368.7 457.5,369.3 458.0,370.0 458.5,370.6 459.0,371.4 459.5,372.2 460.0,373.0 460.5,373.9 461.0,374.9 461.5,375.9 462.0,376.9 462.5,378.0 463.0,379.0 463.5,380.0 464.0,381.0 464.5,382.1 465.0,383.1 465.5,384.1 466.0,385.0 466.5,385.9 467.0,386.8 467.5,387.6 468.0,388.4 468.5,389.2 469.0,390.0 469.5,390.7 470.0,391.4 470.5,392.1 471.0,392.8 471.5,393.4 472.0,394.0 472.5,394.6 473.0,395.1 473.5,395.6 474.0,396.0 474.5,396.3 475.0,396.7 475.5,396.9 476.0,397.0 476.5,396.8 477.0,396.1 477.5,395.3 478.0,394.4 478.5,393.5 479.0,392.7 479.5,391.8 480.0,390.9 480.5,389.9 481.0,389.0 481.5,388.0 482.0,387.0 482.5,386.0 483.0,385.0 483.5,384.0 484.0,383.0 484.5,382.0 485.0,380.9 485.5,379.9 486.0,378.9 486.5,377.9 487.0,377.0 487.5,376.2 488.0,375.4 488.5,374.6 489.0,373.9 489.5,373.2 490.0,372.5 490.5,371.9 491.0,371.2 491.5,370.6 492.0,370.0 492.5,369.5 493.0,369.0 493.5,368.5 494.0,368.1 494.5,367.6 495.0,367.2 495.5,366.8 496.0,366.5 496.5,366.2 497.0,365.8 497.5,365.5 498.0,365.2 498.5,365.1 499.0,365.0 499.5,365.0 500.0,365.1 500.5,365.2 501.0,365.4 501.5,365.7 502.0,366.0" fill="none" stroke="#b40000" stroke-width="1.0" stroke-linejoin="round" />
<g font-family="'Liberation Sans', sans-serif" font-weight="bold" fill="#000" stroke="#000" stroke-width="0.22">
<rect x="55.1" y="1.8" width="4.3" height="4.3" fill="#000000" stroke="none"/>
<text x="61.3" y="6.3" font-size="7.0" text-anchor="start" textLength="37.9" lengthAdjust="spacingAndGlyphs" stroke-width="0.3">Grid Import</text>
<rect x="111.5" y="1.8" width="4.3" height="4.3" fill="#bf8f00" stroke="none"/>
<text x="118.4" y="6.3" font-size="7.0" text-anchor="start" textLength="19.4" lengthAdjust="spacingAndGlyphs" stroke-width="0.3">OCGT</text>
<rect x="149.3" y="1.8" width="4.3" height="4.3" fill="#4a8a2a" stroke="none"/>
<text x="155.5" y="6.3" font-size="7.0" text-anchor="start" textLength="18.2" lengthAdjust="spacingAndGlyphs" stroke-width="0.3">CCGT</text>
<rect x="185.1" y="1.8" width="4.3" height="4.3" fill="#1f8a8a" stroke="none"/>
<text x="192.1" y="6.3" font-size="7.0" text-anchor="start" textLength="47.3" lengthAdjust="spacingAndGlyphs" stroke-width="0.3">PHS&#160;&#160;discharge</text>
<rect x="252.1" y="1.8" width="4.3" height="4.3" fill="#ff0000" stroke="none"/>
<text x="258.3" y="6.3" font-size="7.0" text-anchor="start" textLength="57.0" lengthAdjust="spacingAndGlyphs" stroke-width="0.3">Battery discharge</text>
<rect x="327.7" y="1.8" width="4.3" height="4.3" fill="#1f3864" stroke="none"/>
<text x="333.9" y="6.3" font-size="7.0" text-anchor="start" textLength="37.3" lengthAdjust="spacingAndGlyphs" stroke-width="0.3">Hydro Dam</text>
<rect x="383.2" y="1.8" width="4.3" height="4.3" fill="#4589d3" stroke="none"/>
<text x="389.4" y="6.3" font-size="7.0" text-anchor="start" textLength="18.0" lengthAdjust="spacingAndGlyphs" stroke-width="0.3">Wind</text>
<rect x="419.5" y="1.8" width="4.3" height="4.3" fill="#ffed00" stroke="none"/>
<text x="425.7" y="6.3" font-size="7.0" text-anchor="start" textLength="7.1" lengthAdjust="spacingAndGlyphs" stroke-width="0.3">PV</text>
<rect x="444.4" y="1.8" width="4.3" height="4.3" fill="#9dc3e6" stroke="none"/>
<text x="451.7" y="6.3" font-size="7.0" text-anchor="start" textLength="36.3" lengthAdjust="spacingAndGlyphs" stroke-width="0.3">Hydro RoR</text>
<text x="21.5" y="19.0" font-size="6.5" text-anchor="end" stroke-width="0.05">300</text>
<text x="21.5" y="54.8" font-size="6.5" text-anchor="end" stroke-width="0.05">240</text>
<text x="21.5" y="90.8" font-size="6.5" text-anchor="end" stroke-width="0.05">180</text>
<text x="21.5" y="124.8" font-size="6.5" text-anchor="end" stroke-width="0.05">120</text>
<text x="21.5" y="161.1" font-size="6.5" text-anchor="end" stroke-width="0.05">60</text>
<text x="21.5" y="198.3" font-size="6.5" text-anchor="end" stroke-width="0.05">0</text>
<text x="21.5" y="234.1" font-size="6.5" text-anchor="end" stroke-width="0.05">-60</text>
<text x="21.5" y="271.4" font-size="6.5" text-anchor="end" stroke-width="0.05">-120</text>
<text x="21.5" y="309.3" font-size="6.5" text-anchor="end" stroke-width="0.05">-180</text>
<text x="20.5" y="370.3" font-size="6.5" text-anchor="end" stroke-width="0.05">60</text>
<text x="20.5" y="399.3" font-size="6.5" text-anchor="end" stroke-width="0.05">40</text>
<text x="20.5" y="427.3" font-size="6.5" text-anchor="end" stroke-width="0.05">20</text>
<text x="20.5" y="455.1" font-size="6.5" text-anchor="end" stroke-width="0.05">0</text>
<text transform="translate(6.3 141.5) rotate(-90)" font-size="6.2" text-anchor="middle" textLength="53.0" lengthAdjust="spacingAndGlyphs">Generation [GWh]</text>
<text transform="translate(6.3 425.5) rotate(-90)" font-size="6.2" text-anchor="middle" textLength="52.0" lengthAdjust="spacingAndGlyphs">Generation [GWh]</text>
<text transform="translate(41.4 201.6) rotate(-90)" font-size="7.0" text-anchor="end" textLength="14.0" lengthAdjust="spacingAndGlyphs">6557</text>
<text transform="translate(52.4 201.6) rotate(-90)" font-size="7.0" text-anchor="end" textLength="14.0" lengthAdjust="spacingAndGlyphs">6561</text>
<text transform="translate(63.4 201.6) rotate(-90)" font-size="7.0" text-anchor="end" textLength="14.0" lengthAdjust="spacingAndGlyphs">6565</text>
<text transform="translate(74.4 201.6) rotate(-90)" font-size="7.0" text-anchor="end" textLength="14.0" lengthAdjust="spacingAndGlyphs">6569</text>
<text transform="translate(85.4 201.6) rotate(-90)" font-size="7.0" text-anchor="end" textLength="14.0" lengthAdjust="spacingAndGlyphs">6573</text>
<text transform="translate(96.4 201.6) rotate(-90)" font-size="7.0" text-anchor="end" textLength="14.0" lengthAdjust="spacingAndGlyphs">6577</text>
<text transform="translate(107.4 201.6) rotate(-90)" font-size="7.0" text-anchor="end" textLength="14.0" lengthAdjust="spacingAndGlyphs">6581</text>
<text transform="translate(118.4 201.6) rotate(-90)" font-size="7.0" text-anchor="end" textLength="14.0" lengthAdjust="spacingAndGlyphs">6585</text>
<text transform="translate(129.4 201.6) rotate(-90)" font-size="7.0" text-anchor="end" textLength="14.0" lengthAdjust="spacingAndGlyphs">6589</text>
<text transform="translate(140.4 201.6) rotate(-90)" font-size="7.0" text-anchor="end" textLength="14.0" lengthAdjust="spacingAndGlyphs">6593</text>
<text transform="translate(151.4 201.6) rotate(-90)" font-size="7.0" text-anchor="end" textLength="14.0" lengthAdjust="spacingAndGlyphs">6597</text>
<text transform="translate(162.4 201.6) rotate(-90)" font-size="7.0" text-anchor="end" textLength="14.0" lengthAdjust="spacingAndGlyphs">6601</text>
<text transform="translate(173.4 201.6) rotate(-90)" font-size="7.0" text-anchor="end" textLength="14.0" lengthAdjust="spacingAndGlyphs">6605</text>
<text transform="translate(184.4 201.6) rotate(-90)" font-size="7.0" text-anchor="end" textLength="14.0" lengthAdjust="spacingAndGlyphs">6609</text>
<text transform="translate(195.4 201.6) rotate(-90)" font-size="7.0" text-anchor="end" textLength="14.0" lengthAdjust="spacingAndGlyphs">6613</text>
<text transform="translate(206.4 201.6) rotate(-90)" font-size="7.0" text-anchor="end" textLength="14.0" lengthAdjust="spacingAndGlyphs">6617</text>
<text transform="translate(217.4 201.6) rotate(-90)" font-size="7.0" text-anchor="end" textLength="14.0" lengthAdjust="spacingAndGlyphs">6621</text>
<text transform="translate(228.4 201.6) rotate(-90)" font-size="7.0" text-anchor="end" textLength="14.0" lengthAdjust="spacingAndGlyphs">6625</text>
<text transform="translate(239.4 201.6) rotate(-90)" font-size="7.0" text-anchor="end" textLength="14.0" lengthAdjust="spacingAndGlyphs">6629</text>
<text transform="translate(250.4 201.6) rotate(-90)" font-size="7.0" text-anchor="end" textLength="14.0" lengthAdjust="spacingAndGlyphs">6633</text>
<text transform="translate(261.4 201.6) rotate(-90)" font-size="7.0" text-anchor="end" textLength="14.0" lengthAdjust="spacingAndGlyphs">6637</text>
<text transform="translate(272.4 201.6) rotate(-90)" font-size="7.0" text-anchor="end" textLength="14.0" lengthAdjust="spacingAndGlyphs">6641</text>
<text transform="translate(283.4 201.6) rotate(-90)" font-size="7.0" text-anchor="end" textLength="14.0" lengthAdjust="spacingAndGlyphs">6645</text>
<text transform="translate(294.4 201.6) rotate(-90)" font-size="7.0" text-anchor="end" textLength="14.0" lengthAdjust="spacingAndGlyphs">6649</text>
<text transform="translate(305.4 201.6) rotate(-90)" font-size="7.0" text-anchor="end" textLength="14.0" lengthAdjust="spacingAndGlyphs">6653</text>
<text transform="translate(316.4 201.6) rotate(-90)" font-size="7.0" text-anchor="end" textLength="14.0" lengthAdjust="spacingAndGlyphs">6657</text>
<text transform="translate(327.4 201.6) rotate(-90)" font-size="7.0" text-anchor="end" textLength="14.0" lengthAdjust="spacingAndGlyphs">6661</text>
<text transform="translate(338.4 201.6) rotate(-90)" font-size="7.0" text-anchor="end" textLength="14.0" lengthAdjust="spacingAndGlyphs">6665</text>
<text transform="translate(349.4 201.6) rotate(-90)" font-size="7.0" text-anchor="end" textLength="14.0" lengthAdjust="spacingAndGlyphs">6669</text>
<text transform="translate(360.4 201.6) rotate(-90)" font-size="7.0" text-anchor="end" textLength="14.0" lengthAdjust="spacingAndGlyphs">6673</text>
<text transform="translate(371.4 201.6) rotate(-90)" font-size="7.0" text-anchor="end" textLength="14.0" lengthAdjust="spacingAndGlyphs">6677</text>
<text transform="translate(382.4 201.6) rotate(-90)" font-size="7.0" text-anchor="end" textLength="14.0" lengthAdjust="spacingAndGlyphs">6681</text>
<text transform="translate(393.4 201.6) rotate(-90)" font-size="7.0" text-anchor="end" textLength="14.0" lengthAdjust="spacingAndGlyphs">6685</text>
<text transform="translate(404.4 201.6) rotate(-90)" font-size="7.0" text-anchor="end" textLength="14.0" lengthAdjust="spacingAndGlyphs">6689</text>
<text transform="translate(415.4 201.6) rotate(-90)" font-size="7.0" text-anchor="end" textLength="14.0" lengthAdjust="spacingAndGlyphs">6693</text>
<text transform="translate(426.4 201.6) rotate(-90)" font-size="7.0" text-anchor="end" textLength="14.0" lengthAdjust="spacingAndGlyphs">6697</text>
<text transform="translate(437.4 201.6) rotate(-90)" font-size="7.0" text-anchor="end" textLength="14.0" lengthAdjust="spacingAndGlyphs">6701</text>
<text transform="translate(448.4 201.6) rotate(-90)" font-size="7.0" text-anchor="end" textLength="14.0" lengthAdjust="spacingAndGlyphs">6705</text>
<text transform="translate(459.4 201.6) rotate(-90)" font-size="7.0" text-anchor="end" textLength="14.0" lengthAdjust="spacingAndGlyphs">6709</text>
<text transform="translate(470.4 201.6) rotate(-90)" font-size="7.0" text-anchor="end" textLength="14.0" lengthAdjust="spacingAndGlyphs">6713</text>
<text transform="translate(481.4 201.6) rotate(-90)" font-size="7.0" text-anchor="end" textLength="14.0" lengthAdjust="spacingAndGlyphs">6717</text>
<text transform="translate(492.4 201.6) rotate(-90)" font-size="7.0" text-anchor="end" textLength="14.0" lengthAdjust="spacingAndGlyphs">6721</text>
<text transform="translate(503.4 201.6) rotate(-90)" font-size="7.0" text-anchor="end" textLength="14.0" lengthAdjust="spacingAndGlyphs">6725</text>
<text transform="translate(42.1 460.4) rotate(-90)" font-size="6.5" text-anchor="end" textLength="6.1" lengthAdjust="spacingAndGlyphs">77</text>
<text transform="translate(53.1 460.4) rotate(-90)" font-size="6.5" text-anchor="end" textLength="6.1" lengthAdjust="spacingAndGlyphs">81</text>
<text transform="translate(64.2 460.4) rotate(-90)" font-size="6.5" text-anchor="end" textLength="6.1" lengthAdjust="spacingAndGlyphs">85</text>
<text transform="translate(75.2 460.4) rotate(-90)" font-size="6.5" text-anchor="end" textLength="6.1" lengthAdjust="spacingAndGlyphs">89</text>
<text transform="translate(86.3 460.4) rotate(-90)" font-size="6.5" text-anchor="end" textLength="6.1" lengthAdjust="spacingAndGlyphs">93</text>
<text transform="translate(97.3 460.4) rotate(-90)" font-size="6.5" text-anchor="end" textLength="6.1" lengthAdjust="spacingAndGlyphs">97</text>
<text transform="translate(108.4 460.4) rotate(-90)" font-size="6.5" text-anchor="end" textLength="9.1" lengthAdjust="spacingAndGlyphs">101</text>
<text transform="translate(119.5 460.4) rotate(-90)" font-size="6.5" text-anchor="end" textLength="9.1" lengthAdjust="spacingAndGlyphs">105</text>
<text transform="translate(130.5 460.4) rotate(-90)" font-size="6.5" text-anchor="end" textLength="9.1" lengthAdjust="spacingAndGlyphs">109</text>
<text transform="translate(141.6 460.4) rotate(-90)" font-size="6.5" text-anchor="end" textLength="9.1" lengthAdjust="spacingAndGlyphs">113</text>
<text transform="translate(152.6 460.4) rotate(-90)" font-size="6.5" text-anchor="end" textLength="9.1" lengthAdjust="spacingAndGlyphs">117</text>
<text transform="translate(163.7 460.4) rotate(-90)" font-size="6.5" text-anchor="end" textLength="9.1" lengthAdjust="spacingAndGlyphs">121</text>
<text transform="translate(174.7 460.4) rotate(-90)" font-size="6.5" text-anchor="end" textLength="9.1" lengthAdjust="spacingAndGlyphs">125</text>
<text transform="translate(185.8 460.4) rotate(-90)" font-size="6.5" text-anchor="end" textLength="9.1" lengthAdjust="spacingAndGlyphs">129</text>
<text transform="translate(196.8 460.4) rotate(-90)" font-size="6.5" text-anchor="end" textLength="9.1" lengthAdjust="spacingAndGlyphs">133</text>
<text transform="translate(207.9 460.4) rotate(-90)" font-size="6.5" text-anchor="end" textLength="9.1" lengthAdjust="spacingAndGlyphs">137</text>
<text transform="translate(218.9 460.4) rotate(-90)" font-size="6.5" text-anchor="end" textLength="9.1" lengthAdjust="spacingAndGlyphs">141</text>
<text transform="translate(230.0 460.4) rotate(-90)" font-size="6.5" text-anchor="end" textLength="9.1" lengthAdjust="spacingAndGlyphs">145</text>
<text transform="translate(241.0 460.4) rotate(-90)" font-size="6.5" text-anchor="end" textLength="9.1" lengthAdjust="spacingAndGlyphs">149</text>
<text transform="translate(252.1 460.4) rotate(-90)" font-size="6.5" text-anchor="end" textLength="9.1" lengthAdjust="spacingAndGlyphs">153</text>
<text transform="translate(263.1 460.4) rotate(-90)" font-size="6.5" text-anchor="end" textLength="9.1" lengthAdjust="spacingAndGlyphs">157</text>
<text transform="translate(274.2 460.4) rotate(-90)" font-size="6.5" text-anchor="end" textLength="9.1" lengthAdjust="spacingAndGlyphs">161</text>
<text transform="translate(285.2 460.4) rotate(-90)" font-size="6.5" text-anchor="end" textLength="9.1" lengthAdjust="spacingAndGlyphs">165</text>
<text transform="translate(296.2 460.4) rotate(-90)" font-size="6.5" text-anchor="end" textLength="9.1" lengthAdjust="spacingAndGlyphs">169</text>
<text transform="translate(307.3 460.4) rotate(-90)" font-size="6.5" text-anchor="end" textLength="9.1" lengthAdjust="spacingAndGlyphs">173</text>
<text transform="translate(318.4 460.4) rotate(-90)" font-size="6.5" text-anchor="end" textLength="9.1" lengthAdjust="spacingAndGlyphs">177</text>
<text transform="translate(329.4 460.4) rotate(-90)" font-size="6.5" text-anchor="end" textLength="9.1" lengthAdjust="spacingAndGlyphs">181</text>
<text transform="translate(340.5 460.4) rotate(-90)" font-size="6.5" text-anchor="end" textLength="9.1" lengthAdjust="spacingAndGlyphs">185</text>
<text transform="translate(351.5 460.4) rotate(-90)" font-size="6.5" text-anchor="end" textLength="9.1" lengthAdjust="spacingAndGlyphs">189</text>
<text transform="translate(362.6 460.4) rotate(-90)" font-size="6.5" text-anchor="end" textLength="9.1" lengthAdjust="spacingAndGlyphs">193</text>
<text transform="translate(373.6 460.4) rotate(-90)" font-size="6.5" text-anchor="end" textLength="9.1" lengthAdjust="spacingAndGlyphs">197</text>
<text transform="translate(384.7 460.4) rotate(-90)" font-size="6.5" text-anchor="end" textLength="9.1" lengthAdjust="spacingAndGlyphs">201</text>
<text transform="translate(395.7 460.4) rotate(-90)" font-size="6.5" text-anchor="end" textLength="9.1" lengthAdjust="spacingAndGlyphs">205</text>
<text transform="translate(406.8 460.4) rotate(-90)" font-size="6.5" text-anchor="end" textLength="9.1" lengthAdjust="spacingAndGlyphs">209</text>
<text transform="translate(417.8 460.4) rotate(-90)" font-size="6.5" text-anchor="end" textLength="9.1" lengthAdjust="spacingAndGlyphs">213</text>
<text transform="translate(428.9 460.4) rotate(-90)" font-size="6.5" text-anchor="end" textLength="9.1" lengthAdjust="spacingAndGlyphs">217</text>
<text transform="translate(439.9 460.4) rotate(-90)" font-size="6.5" text-anchor="end" textLength="9.1" lengthAdjust="spacingAndGlyphs">221</text>
<text transform="translate(451.0 460.4) rotate(-90)" font-size="6.5" text-anchor="end" textLength="9.1" lengthAdjust="spacingAndGlyphs">225</text>
<text transform="translate(462.0 460.4) rotate(-90)" font-size="6.5" text-anchor="end" textLength="9.1" lengthAdjust="spacingAndGlyphs">229</text>
<text transform="translate(473.1 460.4) rotate(-90)" font-size="6.5" text-anchor="end" textLength="9.1" lengthAdjust="spacingAndGlyphs">233</text>
<text transform="translate(484.1 460.4) rotate(-90)" font-size="6.5" text-anchor="end" textLength="9.1" lengthAdjust="spacingAndGlyphs">237</text>
<text transform="translate(495.2 460.4) rotate(-90)" font-size="6.5" text-anchor="end" textLength="9.1" lengthAdjust="spacingAndGlyphs">241</text>
<text x="462.0" y="224.8" font-size="6.1" text-anchor="start" textLength="16.3" lengthAdjust="spacingAndGlyphs" >Hours</text>
<text x="462.0" y="476.8" font-size="6.3" text-anchor="start" textLength="16.5" lengthAdjust="spacingAndGlyphs" >Hours</text>
<rect x="72.0" y="486.8" width="4.1" height="4.1" fill="#ff0000" stroke="none"/>
<text x="78.2" y="491.2" font-size="7.2" text-anchor="start" textLength="45.2" lengthAdjust="spacingAndGlyphs" stroke-width="0.3">Battery charge</text>
<rect x="143.7" y="486.8" width="4.1" height="4.1" fill="#1f8a8a" stroke="none"/>
<text x="149.7" y="491.2" font-size="7.2" text-anchor="start" textLength="34.3" lengthAdjust="spacingAndGlyphs" stroke-width="0.3">PHS charge</text>
<rect x="204.7" y="486.8" width="4.1" height="4.1" fill="#a5a5a5" stroke="none"/>
<text x="210.7" y="491.2" font-size="7.2" text-anchor="start" textLength="35.3" lengthAdjust="spacingAndGlyphs" stroke-width="0.3">Electrolysis</text>
<rect x="265.3" y="486.8" width="4.1" height="4.1" fill="#ed7d31" stroke="none"/>
<text x="271.7" y="491.2" font-size="7.2" text-anchor="start" textLength="45.3" lengthAdjust="spacingAndGlyphs" stroke-width="0.3">CO2 Scrubbing</text>
<rect x="338.0" y="486.8" width="4.1" height="4.1" fill="#000000" stroke="none"/>
<text x="343.7" y="491.2" font-size="7.2" text-anchor="start" textLength="35.3" lengthAdjust="spacingAndGlyphs" stroke-width="0.3">Grid Export</text>
</g>
</svg>
</body>
</html>
